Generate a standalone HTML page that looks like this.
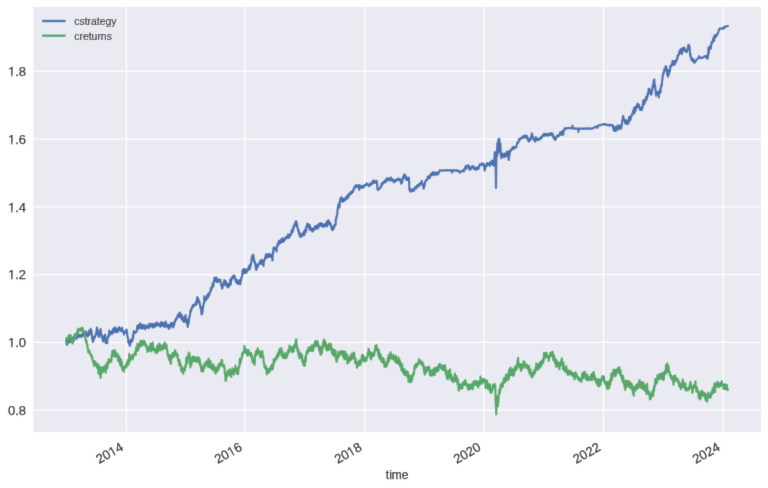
<!DOCTYPE html>
<html><head><meta charset="utf-8"><style>
html,body{margin:0;padding:0;background:#fff;width:768px;height:488px;overflow:hidden}
svg{display:block;font-family:"Liberation Sans",sans-serif}
</style></head><body>
<svg width="768" height="488" viewBox="0 0 768 488">
<defs><filter id="sf" x="0" y="0" width="768" height="488" filterUnits="userSpaceOnUse"><feConvolveMatrix order="3" kernelMatrix="0.0100 0.0800 0.0100 0.0800 0.6400 0.0800 0.0100 0.0800 0.0100" edgeMode="duplicate"/></filter></defs>
<g filter="url(#sf)">
<rect width="768" height="488" fill="#fff"/>
<rect x="33.5" y="7" width="727.5" height="425" fill="#EAEAF2"/>
<line x1="33.5" x2="761" y1="71.4" y2="71.4" stroke="#fff" stroke-width="1.3"/>
<line x1="33.5" x2="761" y1="139.1" y2="139.1" stroke="#fff" stroke-width="1.3"/>
<line x1="33.5" x2="761" y1="206.9" y2="206.9" stroke="#fff" stroke-width="1.3"/>
<line x1="33.5" x2="761" y1="274.6" y2="274.6" stroke="#fff" stroke-width="1.3"/>
<line x1="33.5" x2="761" y1="342.4" y2="342.4" stroke="#fff" stroke-width="1.3"/>
<line x1="33.5" x2="761" y1="410.1" y2="410.1" stroke="#fff" stroke-width="1.3"/>
<line x1="126.4" x2="126.4" y1="7" y2="432" stroke="#fff" stroke-width="1.3"/>
<line x1="245.0" x2="245.0" y1="7" y2="432" stroke="#fff" stroke-width="1.3"/>
<line x1="364.9" x2="364.9" y1="7" y2="432" stroke="#fff" stroke-width="1.3"/>
<line x1="483.8" x2="483.8" y1="7" y2="432" stroke="#fff" stroke-width="1.3"/>
<line x1="603.5" x2="603.5" y1="7" y2="432" stroke="#fff" stroke-width="1.3"/>
<line x1="723.0" x2="723.0" y1="7" y2="432" stroke="#fff" stroke-width="1.3"/>
<polyline points="66.2,341.2 66.5,340.8 66.7,343.9 67.0,342.8 67.2,344.9 67.5,341.2 67.7,339.4 67.9,341.0 68.2,340.9 68.4,341.5 68.7,340.6 68.9,341.8 69.2,340.2 69.4,342.5 69.7,339.4 69.9,342.2 70.2,338.1 70.5,338.4 70.7,339.7 71.0,340.7 71.2,340.1 71.5,340.6 71.8,339.0 72.0,338.9 72.3,341.1 72.5,339.0 72.8,339.5 73.0,340.2 73.3,337.4 73.6,338.9 73.8,340.8 74.1,338.8 74.3,338.2 74.6,334.9 74.8,335.7 75.1,337.6 75.3,335.1 75.6,333.9 75.8,336.4 76.1,337.1 76.3,339.0 76.6,337.3 76.8,337.2 77.0,336.2 77.3,335.5 77.5,336.6 77.8,336.4 78.0,335.6 78.3,336.5 78.5,337.1 78.8,334.7 79.0,335.4 79.2,334.6 79.5,334.8 79.7,336.0 80.0,335.9 80.2,336.5 80.4,335.9 80.7,336.5 80.9,336.3 81.2,335.3 81.4,336.9 81.7,336.1 81.9,334.0 82.2,335.0 82.4,335.6 82.7,336.0 82.9,335.3 83.2,335.0 83.4,332.7 83.7,334.8 84.0,334.5 84.2,333.4 84.5,334.1 84.7,334.0 85.0,334.8 85.2,335.7 85.5,333.3 85.7,332.8 86.0,333.0 86.3,331.5 86.5,333.4 86.8,333.6 87.0,335.6 87.3,334.9 87.6,335.2 87.8,336.3 88.1,335.1 88.3,333.5 88.6,334.9 88.8,335.3 89.1,334.6 89.3,330.3 89.6,331.8 89.8,333.5 90.0,332.0 90.3,330.8 90.5,332.1 90.8,328.9 91.0,330.0 91.2,330.9 91.5,330.8 91.8,334.1 92.0,336.4 92.3,339.4 92.5,339.4 92.8,341.8 93.1,339.9 93.3,341.2 93.6,339.7 93.8,337.2 94.1,337.7 94.4,338.1 94.6,336.0 94.9,337.6 95.1,336.3 95.4,335.6 95.7,335.4 95.9,333.2 96.2,334.5 96.5,331.9 96.7,329.1 97.0,327.6 97.2,329.3 97.5,330.1 97.8,331.3 98.0,332.3 98.2,333.1 98.5,334.8 98.8,336.6 99.0,336.9 99.3,335.6 99.5,333.8 99.8,332.3 100.1,331.1 100.3,332.7 100.6,329.1 100.9,332.7 101.1,333.5 101.4,333.8 101.7,336.5 101.9,336.6 102.2,336.2 102.4,338.6 102.7,339.3 103.0,341.5 103.2,338.7 103.5,340.5 103.8,339.0 104.0,340.0 104.3,336.2 104.5,335.8 104.8,337.7 105.1,334.6 105.3,337.4 105.6,343.0 105.9,340.9 106.1,341.4 106.4,342.9 106.7,342.3 106.9,339.6 107.2,343.2 107.4,338.6 107.7,338.5 108.0,336.9 108.2,335.6 108.5,337.2 108.7,336.7 109.0,335.0 109.2,330.7 109.5,334.3 109.8,332.5 110.0,334.6 110.2,334.0 110.5,334.1 110.8,333.7 111.0,332.5 111.2,333.2 111.5,331.4 111.8,333.1 112.0,331.0 112.2,333.9 112.5,331.3 112.8,331.2 113.0,330.5 113.2,328.9 113.5,328.6 113.8,331.4 114.0,330.2 114.2,332.1 114.5,329.6 114.8,327.4 115.0,328.4 115.2,327.7 115.5,329.5 115.8,328.7 116.0,328.6 116.2,329.5 116.5,332.3 116.7,331.4 117.0,329.4 117.2,329.5 117.5,330.0 117.7,328.7 118.0,331.9 118.2,329.7 118.4,328.6 118.7,329.4 118.9,330.0 119.2,327.1 119.4,327.8 119.7,329.1 119.9,328.2 120.2,330.2 120.4,328.9 120.7,330.1 120.9,329.5 121.2,331.1 121.5,330.7 121.7,329.6 122.0,330.9 122.2,327.8 122.5,331.3 122.8,331.2 123.0,331.7 123.2,332.0 123.5,332.6 123.8,333.3 124.0,334.6 124.3,333.0 124.5,332.3 124.8,331.8 125.0,331.4 125.3,331.3 125.6,331.4 125.8,331.4 126.1,332.1 126.4,332.4 126.6,329.7 126.9,333.3 127.1,332.1 127.4,336.1 127.7,337.6 127.9,337.6 128.2,342.4 128.5,341.4 128.7,341.0 129.0,343.4 129.3,340.7 129.5,343.9 129.8,345.9 130.1,345.1 130.3,340.9 130.6,342.3 130.9,340.4 131.1,339.9 131.4,339.5 131.6,341.9 131.9,339.8 132.2,341.3 132.4,339.3 132.7,339.6 132.9,335.2 133.2,337.2 133.5,333.5 133.7,331.0 134.0,332.6 134.2,333.3 134.5,331.8 134.8,332.6 135.0,332.1 135.3,332.8 135.5,332.2 135.8,331.7 136.1,331.3 136.3,331.6 136.6,331.6 136.8,330.4 137.1,327.2 137.3,325.8 137.6,326.3 137.8,327.5 138.1,325.3 138.3,329.0 138.6,325.6 138.8,327.6 139.0,324.8 139.3,326.0 139.5,325.9 139.8,327.6 140.0,325.4 140.2,323.4 140.5,325.5 140.8,328.2 141.0,326.4 141.2,324.9 141.5,328.1 141.8,328.5 142.0,325.3 142.2,325.0 142.5,328.2 142.8,326.3 143.0,327.8 143.3,328.2 143.5,327.6 143.8,325.1 144.0,328.4 144.3,328.2 144.5,328.4 144.8,327.1 145.0,327.8 145.3,329.1 145.5,328.5 145.8,327.5 146.1,327.2 146.3,325.4 146.6,327.4 146.8,326.9 147.1,326.2 147.3,326.1 147.6,327.3 147.8,327.0 148.1,326.1 148.3,327.1 148.6,328.2 148.8,326.6 149.1,327.4 149.3,323.5 149.6,324.2 149.8,326.4 150.1,326.5 150.3,325.4 150.6,325.8 150.8,324.0 151.1,326.2 151.3,324.9 151.5,323.9 151.8,325.7 152.0,324.1 152.3,325.0 152.5,327.4 152.8,325.9 153.0,326.3 153.3,325.2 153.5,323.9 153.8,325.6 154.0,327.3 154.2,326.5 154.5,325.9 154.8,324.9 155.0,325.3 155.2,325.1 155.5,326.2 155.8,326.2 156.0,322.8 156.2,324.8 156.5,323.5 156.8,322.7 157.0,323.9 157.2,325.3 157.5,323.1 157.8,323.3 158.0,324.7 158.2,323.7 158.5,324.1 158.8,323.8 159.0,325.4 159.2,324.6 159.5,324.4 159.8,325.2 160.0,323.8 160.2,326.8 160.5,324.0 160.8,325.9 161.0,323.7 161.2,322.2 161.5,325.5 161.8,325.8 162.0,324.0 162.2,323.3 162.5,323.6 162.8,322.7 163.0,324.3 163.2,325.3 163.5,323.0 163.8,324.3 164.0,326.7 164.2,323.8 164.5,325.2 164.8,323.7 165.0,326.2 165.2,326.9 165.5,324.6 165.7,321.7 166.0,326.4 166.2,325.4 166.5,325.9 166.7,325.7 167.0,324.9 167.2,324.5 167.5,324.6 167.7,326.7 168.0,324.8 168.2,327.5 168.5,328.2 168.7,327.3 169.0,328.8 169.2,328.5 169.5,325.0 169.7,326.4 170.0,326.2 170.2,327.4 170.5,325.4 170.7,326.3 171.0,322.8 171.2,323.9 171.5,323.5 171.7,326.0 172.0,323.0 172.2,325.4 172.4,325.6 172.7,324.3 172.9,325.5 173.2,327.3 173.4,326.8 173.7,326.3 173.9,325.2 174.2,322.4 174.4,324.1 174.7,321.0 174.9,321.5 175.2,321.4 175.4,320.3 175.7,320.5 176.0,318.3 176.2,318.3 176.5,318.5 176.7,318.7 177.0,318.4 177.2,317.2 177.5,317.0 177.7,315.4 178.0,316.0 178.3,314.4 178.5,315.5 178.8,313.6 179.0,315.3 179.3,315.7 179.5,316.8 179.8,312.7 180.0,315.6 180.3,313.3 180.6,314.9 180.8,315.5 181.1,315.4 181.3,316.5 181.6,319.1 181.8,315.2 182.1,318.2 182.3,317.8 182.6,319.6 182.8,320.4 183.1,321.2 183.3,319.8 183.6,319.5 183.8,319.8 184.1,322.0 184.3,317.3 184.6,320.5 184.8,318.5 185.1,320.6 185.3,320.6 185.6,315.0 185.8,319.2 186.1,320.8 186.3,320.9 186.6,322.8 186.8,321.8 187.1,324.4 187.3,319.5 187.6,325.1 187.8,326.9 188.1,324.4 188.3,322.0 188.6,323.3 188.9,322.3 189.1,317.6 189.4,317.8 189.6,316.5 189.9,315.2 190.1,314.4 190.4,312.0 190.6,310.3 190.9,309.9 191.1,311.1 191.4,308.6 191.6,309.0 191.9,308.2 192.1,306.9 192.4,307.4 192.6,305.9 192.9,306.1 193.1,304.9 193.4,306.5 193.6,305.1 193.9,305.9 194.1,305.8 194.3,304.9 194.6,304.6 194.8,304.7 195.1,304.4 195.3,305.0 195.6,303.6 195.8,302.7 196.1,301.7 196.3,304.6 196.6,301.6 196.8,300.9 197.1,298.7 197.3,297.1 197.6,299.4 197.8,300.2 198.0,298.8 198.3,299.5 198.5,302.5 198.8,300.3 199.0,302.6 199.2,301.1 199.5,302.4 199.7,303.3 199.9,304.8 200.2,306.4 200.4,307.4 200.7,307.9 200.9,309.3 201.1,307.0 201.4,312.9 201.6,314.3 201.9,311.7 202.1,310.9 202.3,313.4 202.6,311.1 202.8,309.1 203.1,307.1 203.3,305.1 203.6,303.8 203.8,303.0 204.1,303.2 204.3,296.4 204.5,299.1 204.8,299.1 205.0,298.8 205.3,297.9 205.5,300.6 205.8,298.4 206.0,299.0 206.3,299.4 206.5,297.5 206.8,297.2 207.0,296.5 207.3,295.1 207.5,298.2 207.8,294.6 208.0,295.4 208.2,296.9 208.5,293.4 208.7,295.2 209.0,293.2 209.2,295.1 209.5,293.1 209.7,292.7 210.0,292.2 210.2,291.8 210.5,292.0 210.7,288.8 211.0,287.8 211.2,289.4 211.5,289.6 211.7,287.6 211.9,287.7 212.2,286.1 212.4,285.8 212.7,283.7 212.9,286.6 213.2,283.0 213.4,286.1 213.7,281.5 213.9,281.6 214.2,279.7 214.4,277.9 214.7,280.6 214.9,279.1 215.2,280.6 215.4,279.4 215.7,280.1 215.9,278.9 216.2,277.4 216.4,282.0 216.7,280.0 217.0,279.7 217.2,279.0 217.5,279.5 217.7,279.6 218.0,281.8 218.2,280.2 218.5,280.9 218.7,280.9 219.0,280.2 219.3,280.2 219.5,279.5 219.8,280.0 220.0,280.1 220.3,279.6 220.5,281.2 220.8,283.1 221.0,284.2 221.3,285.7 221.5,286.2 221.8,285.6 222.1,288.6 222.3,284.8 222.6,287.6 222.8,284.9 223.1,284.1 223.3,285.1 223.6,285.2 223.8,282.1 224.1,282.7 224.3,280.2 224.6,283.4 224.8,282.3 225.1,282.5 225.3,284.4 225.6,281.0 225.8,282.2 226.1,283.6 226.3,282.8 226.6,286.1 226.8,284.8 227.1,283.9 227.3,283.8 227.6,285.7 227.8,284.2 228.1,287.5 228.3,284.3 228.5,287.0 228.8,285.7 229.0,286.3 229.3,284.4 229.5,285.7 229.8,282.7 230.0,282.1 230.3,279.3 230.5,280.6 230.8,284.3 231.0,280.5 231.2,279.6 231.5,280.4 231.7,278.4 232.0,278.3 232.2,277.5 232.5,277.9 232.7,276.1 233.0,278.1 233.2,276.8 233.5,277.2 233.7,275.9 234.0,277.7 234.2,276.0 234.5,275.6 234.7,276.5 235.0,277.4 235.2,278.2 235.5,279.7 235.7,281.5 236.0,280.5 236.2,280.1 236.5,282.7 236.7,282.0 237.0,282.2 237.2,280.2 237.5,281.9 237.8,283.9 238.0,282.2 238.3,282.2 238.5,282.3 238.8,281.1 239.0,281.8 239.3,283.7 239.5,283.3 239.8,280.2 240.0,281.5 240.3,284.3 240.5,280.5 240.8,281.3 241.0,280.1 241.3,277.6 241.5,278.2 241.8,277.6 242.0,276.8 242.3,274.0 242.5,270.5 242.8,274.0 243.0,273.9 243.3,272.3 243.5,269.2 243.8,272.2 244.0,271.5 244.3,271.3 244.5,273.1 244.8,271.3 245.0,269.1 245.3,271.3 245.5,272.1 245.8,272.0 246.1,271.1 246.3,272.9 246.6,272.0 246.8,271.4 247.1,269.9 247.3,269.7 247.6,270.6 247.8,270.4 248.1,268.2 248.4,269.9 248.6,269.7 248.9,266.7 249.1,265.9 249.4,267.9 249.6,265.6 249.9,269.1 250.1,264.8 250.4,266.9 250.7,264.2 250.9,264.9 251.2,262.8 251.4,261.4 251.7,258.9 251.9,257.4 252.2,256.1 252.4,256.9 252.7,255.4 252.9,256.9 253.2,254.6 253.5,256.4 253.7,258.0 254.0,261.2 254.2,261.5 254.5,260.9 254.7,262.3 255.0,263.5 255.2,262.6 255.5,265.7 255.7,267.0 255.9,268.2 256.2,270.0 256.4,266.7 256.7,267.9 256.9,268.5 257.2,266.4 257.4,266.0 257.7,264.3 257.9,266.6 258.2,265.3 258.4,264.2 258.7,264.2 259.0,264.0 259.2,264.1 259.5,262.5 259.7,262.6 260.0,262.5 260.3,260.5 260.5,261.7 260.8,260.7 261.0,262.2 261.3,263.8 261.5,262.4 261.8,259.8 262.0,262.4 262.3,263.3 262.5,263.9 262.8,264.3 263.0,264.2 263.3,262.2 263.5,266.0 263.8,261.7 264.0,260.6 264.3,260.6 264.5,259.3 264.8,259.5 265.0,259.1 265.3,257.0 265.5,257.2 265.7,255.8 266.0,254.3 266.2,256.2 266.5,254.4 266.7,257.8 267.0,254.7 267.2,257.4 267.5,255.3 267.7,255.1 268.0,256.2 268.2,256.2 268.5,254.4 268.7,256.7 269.0,254.7 269.2,255.1 269.5,254.5 269.7,253.9 270.0,255.8 270.2,256.7 270.5,255.1 270.7,256.0 271.0,256.4 271.2,256.6 271.5,256.1 271.7,255.1 272.0,256.4 272.2,258.1 272.5,260.5 272.8,253.0 273.0,252.0 273.3,253.1 273.5,248.4 273.8,247.5 274.1,247.8 274.3,248.6 274.6,248.4 274.8,249.2 275.1,248.1 275.3,249.2 275.6,249.4 275.8,249.9 276.1,249.0 276.3,249.4 276.6,251.4 276.8,246.3 277.1,246.1 277.3,246.8 277.6,243.8 277.8,244.8 278.0,245.3 278.3,244.7 278.5,242.5 278.8,240.9 279.0,242.5 279.3,243.7 279.5,241.9 279.8,241.2 280.0,241.8 280.3,241.2 280.6,242.9 280.8,239.6 281.1,240.8 281.3,241.3 281.6,241.8 281.8,240.2 282.1,241.4 282.3,240.1 282.6,238.1 282.8,242.0 283.1,240.6 283.3,239.5 283.6,240.2 283.8,240.3 284.1,241.0 284.3,239.6 284.6,240.1 284.8,238.9 285.1,239.0 285.3,238.8 285.6,237.5 285.8,237.1 286.1,236.8 286.3,238.5 286.6,238.2 286.8,237.2 287.1,237.8 287.3,237.3 287.6,237.1 287.8,236.6 288.1,234.3 288.3,236.6 288.6,234.7 288.9,238.0 289.1,236.9 289.4,235.3 289.6,236.4 289.9,236.1 290.1,234.5 290.4,235.5 290.7,235.2 290.9,234.0 291.2,234.0 291.4,231.2 291.7,233.3 291.9,231.9 292.2,229.4 292.4,230.0 292.7,231.8 292.9,229.2 293.2,230.0 293.5,226.6 293.7,227.9 294.0,227.4 294.2,225.4 294.5,224.3 294.7,224.0 295.0,224.2 295.2,225.0 295.5,221.5 295.7,221.5 296.0,222.3 296.3,221.2 296.5,224.5 296.8,226.6 297.0,223.6 297.3,227.4 297.5,227.7 297.8,228.3 298.0,229.7 298.3,230.9 298.5,229.6 298.8,232.4 299.0,233.5 299.2,234.3 299.5,234.2 299.7,236.0 300.0,233.3 300.2,234.7 300.5,237.1 300.7,236.0 301.0,234.9 301.2,235.4 301.5,236.6 301.7,235.5 302.0,234.9 302.3,233.8 302.5,233.5 302.8,234.3 303.0,235.5 303.3,235.3 303.5,233.9 303.8,233.5 304.0,231.3 304.3,235.1 304.6,233.7 304.8,231.0 305.1,230.7 305.3,229.6 305.6,229.3 305.8,231.8 306.1,231.1 306.3,227.3 306.6,226.3 306.8,226.1 307.1,224.6 307.3,223.6 307.6,224.5 307.8,226.9 308.1,224.2 308.3,225.2 308.6,225.4 308.8,226.6 309.1,227.5 309.3,226.0 309.6,224.9 309.8,229.9 310.1,229.8 310.3,227.1 310.6,229.9 310.8,229.4 311.1,229.7 311.3,228.4 311.6,230.4 311.8,230.9 312.1,229.7 312.3,230.9 312.6,231.5 312.9,229.5 313.1,228.5 313.4,230.1 313.6,229.2 313.9,230.2 314.1,229.1 314.4,228.0 314.6,227.6 314.9,227.3 315.1,226.0 315.4,228.4 315.6,228.2 315.9,228.4 316.1,226.3 316.4,227.8 316.6,228.7 316.9,226.1 317.1,227.1 317.4,225.4 317.6,228.3 317.9,225.9 318.1,228.2 318.4,226.7 318.6,224.4 318.9,226.3 319.1,223.8 319.4,224.5 319.6,225.4 319.9,223.6 320.1,224.2 320.4,223.9 320.6,225.5 320.9,223.0 321.1,224.3 321.4,223.8 321.6,225.9 321.9,223.6 322.1,224.4 322.4,223.9 322.6,224.7 322.9,226.8 323.1,224.3 323.4,225.5 323.6,225.2 323.9,224.6 324.1,226.3 324.4,226.1 324.6,226.2 324.9,224.6 325.1,224.1 325.4,225.7 325.6,224.8 325.9,224.9 326.1,225.2 326.4,222.3 326.6,224.6 326.9,226.5 327.1,221.9 327.4,222.0 327.6,220.9 327.9,222.1 328.1,222.5 328.4,221.6 328.6,220.3 328.9,222.6 329.1,222.2 329.4,224.9 329.6,222.5 329.9,223.3 330.1,222.7 330.3,224.9 330.6,224.3 330.8,225.4 331.1,225.7 331.3,226.6 331.5,228.5 331.8,227.0 332.0,230.0 332.3,230.2 332.5,228.4 332.8,228.6 333.0,228.9 333.3,226.7 333.5,229.1 333.8,228.4 334.1,225.6 334.3,226.7 334.6,225.0 334.8,224.8 335.1,225.4 335.3,225.1 335.6,224.5 335.8,219.6 336.1,218.6 336.3,217.2 336.6,217.6 336.8,215.9 337.0,214.8 337.3,214.0 337.5,211.2 337.8,207.8 338.0,206.4 338.3,207.9 338.5,204.2 338.8,207.8 339.0,203.1 339.3,204.0 339.5,207.4 339.8,201.7 340.0,202.0 340.3,198.5 340.6,199.3 340.8,199.2 341.1,200.2 341.3,197.4 341.6,200.0 341.8,200.7 342.1,200.8 342.3,198.0 342.6,201.9 342.9,201.4 343.1,198.9 343.4,200.1 343.6,199.1 343.9,200.9 344.1,200.9 344.4,200.3 344.6,200.2 344.9,198.6 345.1,199.2 345.4,198.3 345.6,198.0 345.9,197.1 346.1,199.4 346.4,198.1 346.6,198.7 346.9,198.6 347.1,197.2 347.4,196.1 347.6,195.5 347.9,198.0 348.1,196.2 348.4,197.0 348.6,194.3 348.8,195.8 349.1,194.4 349.3,193.6 349.6,194.2 349.8,193.0 350.1,194.4 350.3,192.5 350.6,193.4 350.8,193.4 351.1,193.7 351.3,192.0 351.6,192.5 351.8,191.3 352.1,192.8 352.3,191.8 352.6,191.1 352.8,192.0 353.1,191.3 353.3,190.5 353.6,188.9 353.8,189.9 354.1,188.1 354.3,187.6 354.6,187.2 354.9,186.5 355.1,185.9 355.4,186.8 355.6,186.7 355.9,185.3 356.1,186.2 356.4,187.4 356.6,186.2 356.9,186.5 357.2,185.5 357.4,186.5 357.7,185.9 357.9,185.9 358.2,186.1 358.4,186.9 358.7,186.4 358.9,185.2 359.2,190.0 359.5,186.8 359.7,186.3 360.0,186.3 360.2,187.0 360.5,186.2 360.7,186.8 361.0,185.7 361.2,186.7 361.5,186.3 361.7,188.0 362.0,186.1 362.2,187.0 362.5,186.7 362.7,187.1 363.0,186.6 363.2,187.7 363.5,185.8 363.7,185.8 364.0,185.4 364.2,185.3 364.5,186.4 364.7,185.1 365.0,185.6 365.2,185.4 365.5,185.4 365.7,184.8 366.0,184.2 366.2,184.9 366.5,184.8 366.7,183.4 367.0,183.7 367.2,184.6 367.5,185.0 367.7,185.1 368.0,184.3 368.3,184.4 368.5,184.7 368.8,185.1 369.0,186.1 369.3,185.8 369.5,184.8 369.8,184.8 370.0,184.2 370.3,183.9 370.6,183.9 370.8,185.2 371.1,182.8 371.3,183.6 371.6,183.0 371.8,183.9 372.1,183.8 372.3,183.5 372.6,181.9 372.8,181.5 373.1,182.8 373.3,182.4 373.6,180.3 373.8,182.5 374.1,181.3 374.3,181.0 374.6,182.9 374.8,182.7 375.1,182.6 375.3,182.4 375.6,182.2 375.8,181.4 376.1,180.9 376.3,182.0 376.6,180.9 376.8,181.8 377.0,182.8 377.2,185.3 377.5,188.9 377.7,189.6 378.0,190.0 378.2,188.9 378.5,189.2 378.7,189.1 379.0,189.1 379.2,188.8 379.5,188.5 379.8,187.8 380.0,188.5 380.3,188.0 380.5,187.8 380.8,186.7 381.0,185.6 381.3,185.0 381.5,186.2 381.8,183.4 382.0,183.8 382.3,183.3 382.5,183.2 382.8,183.9 383.0,183.2 383.3,182.1 383.5,182.4 383.8,182.8 384.0,182.5 384.3,181.8 384.5,181.1 384.8,181.5 385.0,181.1 385.3,182.1 385.5,180.0 385.8,180.5 386.0,180.0 386.3,179.7 386.5,181.3 386.8,178.4 387.0,178.6 387.3,179.9 387.5,178.2 387.8,178.5 388.0,179.0 388.3,179.7 388.6,179.1 388.8,178.7 389.1,179.8 389.3,180.5 389.6,179.0 389.8,179.5 390.1,178.9 390.3,178.6 390.6,177.8 390.8,177.4 391.1,178.7 391.3,179.6 391.6,179.2 391.8,180.6 392.1,179.4 392.3,180.1 392.6,179.2 392.8,181.0 393.1,180.3 393.3,180.3 393.6,180.7 393.8,182.1 394.1,181.0 394.3,181.4 394.5,182.1 394.8,181.4 395.0,180.1 395.3,180.4 395.5,180.1 395.8,179.9 396.0,179.6 396.3,180.8 396.5,179.5 396.8,179.5 397.0,179.7 397.3,179.5 397.5,179.8 397.8,179.2 398.0,180.0 398.3,178.5 398.5,178.7 398.8,180.1 399.0,179.9 399.3,178.8 399.5,179.9 399.8,179.5 400.0,179.3 400.3,180.9 400.5,180.6 400.8,181.6 401.0,183.0 401.2,183.7 401.5,182.9 401.7,182.8 401.9,182.8 402.2,182.2 402.4,180.6 402.7,177.8 402.9,179.1 403.2,178.1 403.4,176.4 403.7,177.5 403.9,175.4 404.2,175.0 404.4,174.4 404.6,174.8 404.9,174.8 405.1,177.4 405.4,176.8 405.6,178.5 405.8,177.9 406.1,176.6 406.3,178.8 406.5,180.0 406.8,178.7 407.0,180.1 407.3,178.8 407.5,178.4 407.8,178.0 408.0,178.9 408.3,179.8 408.5,177.7 408.8,179.0 409.0,178.2 409.2,184.3 409.4,189.9 409.7,189.4 409.9,189.8 410.2,191.7 410.4,189.3 410.7,189.4 410.9,190.6 411.2,189.9 411.4,190.6 411.7,191.2 411.9,189.9 412.2,190.8 412.4,190.0 412.7,189.3 412.9,189.5 413.2,190.8 413.4,190.7 413.7,191.0 414.0,190.5 414.2,188.8 414.5,189.3 414.7,189.1 415.0,187.2 415.2,187.5 415.5,187.9 415.8,188.7 416.0,187.7 416.3,188.5 416.5,186.7 416.8,186.9 417.0,185.8 417.3,186.2 417.5,185.1 417.8,185.2 418.0,186.6 418.3,186.4 418.5,185.9 418.8,185.0 419.0,184.3 419.3,183.7 419.5,183.9 419.8,185.3 420.0,183.6 420.3,183.6 420.5,183.3 420.8,182.8 421.0,183.2 421.3,183.0 421.5,182.1 421.8,180.9 422.0,181.7 422.3,182.8 422.5,184.2 422.8,185.1 423.0,185.8 423.3,186.8 423.5,188.3 423.8,188.6 424.1,187.3 424.3,185.5 424.6,185.1 424.8,184.4 425.1,182.8 425.3,181.4 425.6,180.9 425.8,180.9 426.1,180.2 426.3,180.0 426.6,180.6 426.8,179.5 427.1,179.4 427.3,178.8 427.6,177.5 427.8,176.5 428.1,176.5 428.3,176.7 428.6,176.6 428.8,177.3 429.1,178.5 429.3,178.3 429.5,178.1 429.8,177.8 430.0,177.0 430.2,174.8 430.5,175.9 430.7,175.6 431.0,175.3 431.2,173.5 431.5,173.8 431.7,174.0 432.0,173.3 432.2,173.7 432.5,173.0 432.7,175.1 433.0,172.2 433.2,173.0 433.5,173.8 433.7,173.5 434.0,173.8 434.2,172.6 434.5,174.0 434.7,174.6 435.0,174.1 435.2,172.8 435.5,174.3 435.7,173.4 436.0,174.7 436.2,174.4 436.5,173.0 436.7,174.1 437.0,172.3 437.2,174.0 437.5,173.4 437.7,174.5 438.0,173.8 438.2,173.7 438.5,173.4 438.7,173.2 439.0,172.2 439.2,171.2 439.5,170.7 439.8,170.5 440.0,170.7 440.3,170.4 440.5,170.6 440.8,170.6 441.0,170.7 441.3,170.6 441.5,170.5 441.8,170.4 442.0,170.6 442.3,170.8 442.5,170.6 442.8,170.6 443.0,170.5 443.3,170.5 443.5,170.3 443.8,170.3 444.0,170.3 444.3,170.3 444.5,170.4 444.8,170.3 445.1,170.5 445.3,170.4 445.6,170.5 445.8,170.4 446.1,170.6 446.3,170.4 446.6,170.4 446.8,170.4 447.1,170.3 447.3,170.4 447.6,170.2 447.8,170.2 448.1,170.3 448.3,170.3 448.6,170.3 448.8,170.3 449.1,170.0 449.3,170.1 449.6,170.2 449.8,170.4 450.1,170.3 450.3,170.2 450.6,170.3 450.8,170.2 451.1,170.3 451.3,170.1 451.6,170.5 451.8,170.5 452.1,172.6 452.3,170.3 452.6,170.5 452.8,170.4 453.1,170.4 453.3,170.5 453.6,170.4 453.8,170.2 454.1,170.5 454.3,170.7 454.5,170.5 454.8,170.4 455.0,170.4 455.3,170.4 455.5,170.5 455.8,170.6 456.0,170.4 456.3,170.7 456.5,170.7 456.8,170.5 457.0,170.4 457.3,170.9 457.5,170.5 457.8,170.6 458.0,170.4 458.3,170.8 458.5,170.7 458.7,171.0 458.9,171.6 459.2,172.2 459.4,172.6 459.7,172.2 459.9,172.3 460.2,172.0 460.4,172.3 460.7,172.1 460.9,171.7 461.2,171.3 461.4,171.1 461.7,171.2 462.0,170.8 462.2,171.0 462.5,170.7 462.7,170.6 463.0,170.3 463.2,170.2 463.5,169.9 463.7,169.8 464.0,171.5 464.2,169.0 464.5,169.4 464.7,169.3 465.0,168.3 465.2,167.4 465.5,166.6 465.7,166.3 466.0,165.9 466.2,166.8 466.5,168.7 466.7,166.8 467.0,166.1 467.2,165.8 467.5,165.9 467.7,166.1 467.9,166.1 468.2,165.7 468.4,165.2 468.7,166.6 468.9,166.2 469.2,168.0 469.4,169.3 469.7,167.5 469.9,168.7 470.2,168.4 470.4,169.9 470.7,168.4 470.9,167.3 471.2,167.1 471.4,166.8 471.7,167.8 471.9,166.4 472.2,167.4 472.4,166.8 472.7,168.0 472.9,167.1 473.2,166.0 473.5,167.8 473.7,167.5 474.0,168.8 474.2,168.2 474.5,167.7 474.7,167.9 475.0,169.1 475.2,168.6 475.5,169.8 475.7,170.0 476.0,168.0 476.2,167.6 476.5,168.3 476.7,167.8 477.0,167.6 477.2,168.1 477.5,167.3 477.7,169.0 478.0,168.3 478.2,169.2 478.5,167.7 478.7,167.7 478.9,167.7 479.2,165.9 479.4,165.4 479.7,164.4 479.9,164.7 480.2,165.0 480.4,164.8 480.7,165.1 480.9,164.7 481.2,164.6 481.4,164.9 481.7,163.7 481.9,163.4 482.2,164.5 482.4,164.6 482.7,164.2 482.9,164.5 483.2,164.3 483.4,163.7 483.7,164.5 483.9,165.3 484.2,166.5 484.4,168.7 484.7,170.7 484.9,167.6 485.2,168.0 485.4,168.1 485.7,166.2 485.9,165.8 486.2,166.0 486.4,166.0 486.7,163.7 487.0,163.1 487.2,164.3 487.5,163.9 487.7,164.1 488.0,165.0 488.3,163.9 488.5,164.7 488.8,164.8 489.0,163.5 489.3,164.4 489.5,162.8 489.8,162.5 490.0,165.9 490.3,163.4 490.5,163.1 490.8,162.2 491.0,162.2 491.3,163.3 491.5,161.1 491.8,161.5 492.0,161.3 492.2,164.1 492.5,160.5 492.8,163.2 493.0,164.7 493.2,165.3 493.5,164.8 493.8,163.8 494.0,165.4 494.2,161.6 494.5,157.5 494.7,152.4 495.0,154.9 495.2,156.8 495.5,160.0 495.8,174.2 496.0,187.9 496.2,170.6 496.5,151.4 496.8,154.7 497.0,156.3 497.2,149.3 497.4,143.1 497.6,147.3 497.9,153.5 498.1,144.8 498.4,139.3 498.6,144.3 498.9,150.3 499.1,143.3 499.3,138.7 499.6,145.4 499.8,151.8 500.1,147.8 500.3,143.3 500.6,149.6 500.8,155.7 501.1,156.5 501.3,158.2 501.6,156.7 501.8,156.6 502.1,155.8 502.3,155.9 502.6,156.0 502.8,153.7 503.1,154.0 503.3,155.6 503.5,154.9 503.8,154.1 504.0,156.2 504.3,157.4 504.5,155.6 504.8,154.8 505.0,153.7 505.3,155.7 505.5,155.2 505.8,155.4 506.0,155.7 506.2,156.2 506.5,155.5 506.8,151.8 507.0,153.0 507.2,152.4 507.5,152.6 507.8,152.5 508.0,151.6 508.2,154.4 508.5,157.9 508.7,160.0 509.0,157.6 509.2,156.1 509.5,154.0 509.7,153.1 510.0,151.2 510.2,150.2 510.5,150.7 510.7,150.2 511.0,150.7 511.2,150.3 511.5,150.2 511.7,149.3 512.0,148.7 512.2,148.8 512.5,147.9 512.7,147.5 513.0,146.9 513.2,147.2 513.5,147.1 513.7,148.9 514.0,148.0 514.2,148.5 514.5,147.3 514.7,147.7 515.0,147.8 515.2,147.8 515.5,147.1 515.7,147.8 516.0,146.5 516.2,147.0 516.5,146.6 516.8,144.8 517.0,144.0 517.2,142.5 517.5,142.9 517.8,143.2 518.0,142.4 518.3,142.0 518.5,142.1 518.8,141.3 519.0,139.1 519.3,139.2 519.6,139.6 519.8,138.8 520.1,139.4 520.3,138.9 520.6,138.9 520.8,138.9 521.1,137.8 521.3,138.6 521.6,138.5 521.8,137.7 522.1,137.5 522.4,137.6 522.6,137.6 522.9,137.1 523.1,136.0 523.4,137.1 523.6,136.5 523.9,136.7 524.1,137.0 524.4,137.7 524.7,136.6 524.9,135.7 525.2,136.1 525.4,135.7 525.7,137.4 525.9,137.1 526.2,136.9 526.4,135.6 526.7,136.0 526.9,137.9 527.2,138.7 527.4,136.9 527.7,138.6 527.9,139.1 528.1,140.7 528.4,140.1 528.6,141.2 528.8,141.4 529.1,140.8 529.3,140.2 529.6,140.7 529.8,138.8 530.1,140.0 530.3,138.3 530.6,139.6 530.8,138.9 531.1,138.2 531.3,136.3 531.6,136.6 531.8,133.3 532.1,136.7 532.3,135.0 532.5,136.4 532.8,136.4 533.0,137.5 533.3,138.4 533.5,138.9 533.8,139.5 534.0,139.9 534.3,139.7 534.5,139.4 534.8,140.3 535.0,141.6 535.3,139.6 535.5,140.5 535.8,137.2 536.0,140.1 536.3,139.5 536.5,138.2 536.8,139.4 537.0,140.0 537.3,139.3 537.5,139.8 537.8,140.0 538.0,139.6 538.3,139.9 538.5,139.0 538.8,139.3 539.0,139.1 539.3,139.1 539.5,138.4 539.8,139.1 540.0,138.6 540.3,139.4 540.5,137.8 540.8,137.7 541.0,137.1 541.3,137.9 541.5,137.4 541.8,137.8 542.0,136.0 542.3,136.0 542.5,136.4 542.8,135.1 543.0,135.5 543.3,135.1 543.5,135.6 543.8,135.5 544.0,133.7 544.3,134.5 544.5,134.4 544.8,134.3 545.0,135.0 545.3,135.8 545.5,134.6 545.8,134.1 546.0,134.7 546.3,134.6 546.5,135.0 546.8,134.6 547.0,133.7 547.3,134.3 547.5,135.4 547.8,135.0 548.0,135.4 548.3,135.7 548.5,135.6 548.8,134.6 549.0,134.5 549.3,133.6 549.5,134.7 549.8,134.7 550.0,134.8 550.3,134.2 550.5,133.6 550.8,133.8 551.0,133.1 551.3,134.6 551.5,134.6 551.8,133.2 552.0,135.1 552.3,135.5 552.5,133.6 552.8,134.9 553.0,135.7 553.3,136.2 553.5,137.8 553.8,137.7 554.0,136.6 554.3,137.2 554.5,139.5 554.8,139.1 555.0,139.9 555.3,138.4 555.5,138.7 555.8,139.5 556.0,137.6 556.3,137.6 556.5,137.2 556.8,136.3 557.0,135.6 557.3,136.9 557.5,136.0 557.7,136.1 558.0,136.1 558.2,135.3 558.5,135.9 558.7,136.2 559.0,135.2 559.2,135.4 559.5,135.1 559.7,133.6 560.0,133.6 560.2,132.4 560.5,133.8 560.7,133.7 561.0,132.6 561.2,134.4 561.4,134.6 561.7,132.7 561.9,132.2 562.2,131.5 562.4,132.1 562.7,131.6 562.9,131.7 563.2,134.8 563.4,130.8 563.7,130.2 563.9,130.5 564.2,130.3 564.4,129.4 564.7,128.4 564.9,129.3 565.2,128.6 565.4,128.6 565.7,128.4 565.9,128.6 566.2,128.4 566.4,128.5 566.7,128.4 566.9,128.1 567.2,128.4 567.5,128.1 567.7,128.1 568.0,128.1 568.2,128.0 568.5,128.0 568.7,128.1 569.0,127.9 569.2,127.8 569.5,128.0 569.7,128.1 570.0,128.0 570.2,128.0 570.5,128.2 570.7,128.0 571.0,128.0 571.2,128.0 571.5,128.1 571.7,128.2 572.0,128.3 572.2,128.4 572.5,125.5 572.7,128.5 573.0,128.3 573.2,128.5 573.4,128.5 573.7,128.4 573.9,128.5 574.2,128.4 574.4,128.7 574.7,128.6 574.9,128.5 575.2,128.4 575.4,128.6 575.7,128.8 575.9,128.9 576.2,128.5 576.4,128.7 576.7,128.6 576.9,128.7 577.1,128.8 577.4,128.6 577.6,128.8 577.9,128.8 578.1,128.8 578.4,131.8 578.6,128.5 578.9,128.6 579.1,128.6 579.4,128.6 579.6,128.7 579.9,128.7 580.1,128.8 580.4,128.6 580.6,128.7 580.8,128.6 581.1,128.5 581.3,128.4 581.6,128.6 581.8,128.7 582.1,128.5 582.3,128.6 582.6,128.6 582.8,128.6 583.1,128.8 583.3,128.6 583.6,128.7 583.8,128.8 584.1,128.7 584.3,128.7 584.5,128.7 584.8,128.6 585.0,128.7 585.3,128.6 585.5,128.8 585.8,128.4 586.0,128.6 586.3,129.0 586.5,128.9 586.8,128.8 587.0,128.5 587.3,128.4 587.5,128.5 587.8,128.5 588.0,128.7 588.2,128.4 588.5,128.3 588.7,128.4 589.0,128.6 589.2,128.7 589.5,128.4 589.7,128.7 590.0,128.6 590.2,128.7 590.5,128.5 590.7,128.8 591.0,128.7 591.2,128.7 591.5,128.8 591.7,128.6 591.9,128.4 592.2,128.4 592.4,128.5 592.7,128.3 592.9,128.2 593.2,128.1 593.4,127.8 593.7,127.7 593.9,127.7 594.2,127.6 594.4,127.7 594.7,127.0 594.9,127.0 595.2,126.9 595.4,127.0 595.7,126.8 595.9,126.6 596.2,126.6 596.4,126.6 596.7,126.4 596.9,126.4 597.2,126.2 597.4,127.9 597.7,126.0 598.0,125.8 598.2,125.8 598.5,125.6 598.7,125.6 599.0,125.5 599.2,125.2 599.5,125.3 599.7,125.1 600.0,125.1 600.2,125.3 600.5,125.0 600.7,125.1 601.0,125.1 601.2,124.8 601.5,124.8 601.7,124.7 602.0,124.7 602.2,124.5 602.5,124.4 602.7,124.2 603.0,124.3 603.2,124.1 603.5,124.3 603.7,124.0 604.0,124.0 604.2,124.2 604.5,124.5 604.7,124.1 605.0,124.4 605.2,124.6 605.5,124.6 605.7,124.8 606.0,124.6 606.3,124.7 606.5,124.9 606.8,125.0 607.0,124.9 607.3,124.9 607.5,125.1 607.8,125.1 608.0,125.1 608.3,125.1 608.6,125.0 608.8,125.0 609.1,124.9 609.3,125.4 609.6,125.0 609.8,125.1 610.1,125.6 610.3,124.9 610.6,125.3 610.9,125.4 611.1,125.1 611.4,125.1 611.6,125.0 611.9,125.2 612.1,125.1 612.4,125.2 612.6,125.2 612.9,125.3 613.1,127.4 613.3,128.4 613.6,129.6 613.8,130.5 614.0,129.1 614.3,130.2 614.5,129.3 614.8,130.8 615.0,129.4 615.3,126.8 615.5,127.4 615.8,128.9 616.0,131.0 616.3,127.2 616.5,128.3 616.8,129.6 617.0,128.0 617.3,127.0 617.5,128.2 617.7,125.5 618.0,125.3 618.2,127.2 618.5,125.7 618.7,129.5 619.0,128.3 619.2,127.1 619.5,127.2 619.7,127.9 620.0,126.0 620.2,127.7 620.5,127.7 620.7,127.1 621.0,128.4 621.2,128.7 621.5,124.4 621.7,125.6 622.0,123.5 622.2,121.3 622.5,120.4 622.7,119.5 623.0,115.8 623.3,117.4 623.5,119.6 623.8,118.2 624.0,119.6 624.3,119.5 624.5,120.3 624.8,120.2 625.0,122.6 625.3,120.7 625.5,123.3 625.8,122.2 626.1,123.8 626.3,123.7 626.6,120.3 626.8,121.4 627.1,122.0 627.3,120.9 627.6,121.0 627.8,123.9 628.1,123.6 628.3,120.6 628.6,122.4 628.9,120.9 629.1,116.9 629.4,121.4 629.6,119.9 629.9,118.6 630.1,117.3 630.4,119.7 630.6,118.2 630.9,118.4 631.1,117.0 631.3,116.1 631.6,115.0 631.8,115.4 632.1,115.4 632.3,113.7 632.5,114.3 632.8,112.2 633.0,111.4 633.2,112.8 633.5,109.8 633.7,109.5 634.0,109.0 634.2,107.7 634.5,113.3 634.7,109.1 635.0,107.0 635.2,110.6 635.5,110.8 635.7,107.0 636.0,106.3 636.3,108.4 636.5,106.8 636.8,106.3 637.0,105.2 637.3,106.2 637.5,103.6 637.8,105.9 638.0,107.2 638.3,104.2 638.5,106.4 638.8,104.8 639.0,104.8 639.3,106.9 639.5,107.4 639.8,107.4 640.0,110.0 640.3,108.7 640.5,108.4 640.8,108.3 641.0,108.3 641.3,108.7 641.5,110.2 641.8,110.2 642.0,107.8 642.3,107.0 642.5,108.2 642.8,104.9 643.0,102.5 643.3,101.1 643.5,100.1 643.8,102.9 644.0,102.0 644.3,104.2 644.5,101.6 644.8,102.4 645.0,100.6 645.3,101.9 645.5,99.6 645.8,99.2 646.0,97.2 646.3,99.9 646.5,98.7 646.8,98.8 647.0,97.3 647.3,95.3 647.5,96.7 647.7,93.3 648.0,94.5 648.2,92.5 648.5,91.7 648.7,88.8 648.9,90.2 649.2,88.8 649.4,89.0 649.7,89.8 649.9,89.7 650.2,91.5 650.4,93.1 650.7,94.3 650.9,93.0 651.2,94.7 651.5,93.5 651.7,93.0 652.0,91.3 652.2,90.3 652.5,88.3 652.7,85.5 653.0,87.4 653.2,85.1 653.5,83.3 653.7,80.6 654.0,80.1 654.3,79.5 654.5,82.8 654.8,85.1 655.0,85.4 655.3,87.5 655.5,89.2 655.8,93.2 656.0,95.7 656.3,93.6 656.5,93.1 656.8,92.7 657.0,93.8 657.3,92.1 657.5,93.5 657.8,93.3 658.0,91.9 658.3,93.2 658.5,94.2 658.8,97.3 659.0,94.2 659.3,92.9 659.5,92.6 659.7,92.2 660.0,89.8 660.2,89.3 660.5,92.6 660.7,88.2 660.9,87.3 661.2,85.3 661.4,85.1 661.7,86.1 661.9,83.5 662.2,79.5 662.4,79.2 662.7,77.0 662.9,74.6 663.2,73.5 663.5,73.7 663.7,71.8 664.0,72.8 664.2,69.4 664.5,71.1 664.7,68.6 665.0,70.0 665.2,68.9 665.5,68.4 665.7,66.1 666.0,66.4 666.3,68.9 666.5,67.3 666.8,70.8 667.0,70.4 667.3,75.0 667.5,75.0 667.8,74.6 668.1,76.7 668.3,74.0 668.6,72.2 668.8,70.0 669.1,74.0 669.3,72.3 669.6,71.1 669.8,71.3 670.1,70.3 670.3,66.3 670.6,66.2 670.8,65.4 671.1,66.1 671.3,66.4 671.6,64.2 671.8,65.0 672.1,64.8 672.3,63.8 672.6,60.9 672.8,63.6 673.1,63.3 673.3,64.4 673.6,63.0 673.8,61.0 674.1,65.2 674.3,64.7 674.5,64.4 674.8,63.3 675.0,62.1 675.3,63.5 675.5,60.8 675.8,62.3 676.0,61.8 676.3,59.7 676.5,59.6 676.8,59.9 677.0,59.2 677.2,59.4 677.5,55.7 677.7,55.8 678.0,56.7 678.2,55.2 678.5,55.1 678.7,54.1 679.0,54.6 679.2,53.0 679.5,51.3 679.7,50.5 680.0,51.2 680.2,52.9 680.5,52.9 680.7,49.2 680.9,51.5 681.2,52.2 681.4,50.3 681.7,53.0 681.9,53.9 682.2,50.1 682.4,48.3 682.7,50.2 682.9,50.4 683.2,50.9 683.4,48.5 683.7,47.6 683.9,49.9 684.2,49.9 684.4,47.9 684.7,48.4 684.9,49.7 685.2,49.9 685.4,51.0 685.7,51.2 685.9,50.4 686.2,52.0 686.4,51.6 686.7,52.1 686.9,51.0 687.2,49.8 687.4,49.9 687.7,49.2 687.9,47.9 688.2,45.0 688.4,47.7 688.7,44.8 688.9,47.7 689.2,46.6 689.4,46.1 689.6,47.1 689.9,52.1 690.1,55.0 690.4,53.9 690.6,56.9 690.9,56.4 691.1,58.4 691.4,57.5 691.6,60.2 691.9,59.6 692.1,58.5 692.4,60.0 692.6,58.8 692.9,61.5 693.1,60.3 693.4,59.4 693.6,61.7 693.9,62.2 694.1,61.8 694.4,61.1 694.6,62.7 694.8,62.3 695.1,61.9 695.3,61.6 695.6,61.2 695.8,60.7 696.1,60.5 696.3,59.8 696.6,59.8 696.8,59.5 697.1,59.2 697.3,59.2 697.6,58.6 697.8,58.4 698.1,58.4 698.3,57.8 698.6,57.8 698.8,57.9 699.1,56.0 699.3,58.0 699.6,57.6 699.8,57.9 700.1,57.8 700.3,58.0 700.6,57.8 700.9,57.6 701.1,57.8 701.4,57.8 701.6,57.7 701.9,58.0 702.1,58.0 702.4,58.0 702.6,57.8 702.9,57.8 703.2,57.5 703.4,57.1 703.7,56.9 703.9,56.8 704.2,56.5 704.4,56.2 704.7,56.1 705.0,56.2 705.2,56.4 705.5,56.8 705.7,56.9 706.0,57.3 706.2,57.5 706.5,57.8 706.7,55.7 707.0,58.2 707.2,58.4 707.5,58.7 707.8,57.9 708.0,56.0 708.3,53.2 708.5,47.5 708.8,53.0 709.0,50.3 709.3,49.0 709.6,48.9 709.8,47.2 710.1,46.1 710.3,46.3 710.6,45.7 710.8,48.6 711.1,45.5 711.3,44.5 711.6,42.0 711.8,43.8 712.1,42.0 712.4,41.8 712.6,41.6 712.9,40.7 713.1,38.7 713.4,41.4 713.6,37.5 713.9,38.8 714.1,40.8 714.4,37.0 714.6,35.4 714.9,36.9 715.1,35.3 715.4,37.2 715.6,36.3 715.9,35.1 716.1,36.7 716.4,35.0 716.6,34.6 716.9,34.5 717.1,34.7 717.4,34.6 717.6,33.4 717.9,33.0 718.1,32.6 718.4,31.8 718.6,31.0 718.9,30.3 719.1,29.4 719.4,28.6 719.7,28.6 719.9,28.6 720.2,28.8 720.4,28.7 720.7,28.8 720.9,28.7 721.2,28.8 721.4,28.9 721.7,28.5 721.9,28.7 722.2,28.6 722.4,28.4 722.7,28.6 722.9,28.5 723.2,28.7 723.4,28.6 723.7,27.1 724.0,28.5 724.2,28.0 724.5,27.6 724.7,27.3 725.0,27.2 725.2,26.6 725.5,26.5 725.7,26.4 726.0,26.5 726.2,26.5 726.5,26.4 726.7,26.3 727.0,26.4 727.2,26.2 727.5,26.1 727.7,26.0 728.0,26.0" fill="none" stroke="#4C72B0" stroke-width="2.2" stroke-linejoin="round" stroke-linecap="round"/>
<polyline points="66.2,341.2 66.5,338.0 66.7,342.3 67.0,340.2 67.2,339.5 67.5,340.5 67.7,339.7 68.0,339.1 68.2,337.5 68.4,338.1 68.7,335.6 68.9,338.4 69.2,335.0 69.4,335.5 69.7,335.5 69.9,335.2 70.2,336.1 70.4,335.1 70.7,335.3 70.9,340.5 71.2,339.6 71.5,339.7 71.7,341.2 72.0,340.2 72.2,341.5 72.5,343.6 72.8,342.4 73.0,342.7 73.3,340.5 73.5,339.5 73.8,340.1 74.0,338.7 74.3,339.7 74.6,337.7 74.8,338.8 75.1,335.9 75.3,334.5 75.6,335.0 75.8,333.8 76.1,334.2 76.3,335.7 76.6,334.4 76.8,333.3 77.1,332.6 77.3,331.1 77.6,331.9 77.8,333.4 78.1,328.9 78.3,331.1 78.6,330.9 78.8,329.8 79.1,330.0 79.3,330.2 79.6,329.8 79.8,329.3 80.1,330.6 80.3,329.8 80.6,328.3 80.8,328.4 81.1,330.3 81.4,329.9 81.6,330.5 81.9,329.8 82.1,329.5 82.4,327.5 82.7,331.1 82.9,331.1 83.2,331.6 83.5,330.9 83.7,330.7 84.0,331.6 84.2,332.0 84.5,332.8 84.8,334.7 85.0,336.1 85.2,337.6 85.5,338.3 85.8,341.1 86.0,342.1 86.3,340.1 86.5,341.1 86.8,344.0 87.0,344.1 87.3,344.8 87.6,347.9 87.8,348.6 88.1,349.6 88.3,352.3 88.6,352.3 88.8,350.6 89.1,350.1 89.3,352.4 89.6,352.1 89.8,352.8 90.0,352.4 90.3,354.5 90.5,354.4 90.8,355.0 91.0,355.7 91.2,355.0 91.5,354.8 91.8,358.0 92.0,357.5 92.2,356.8 92.5,359.5 92.8,359.9 93.0,362.0 93.2,362.2 93.5,362.7 93.8,361.3 94.0,365.8 94.2,361.6 94.5,361.2 94.8,364.9 95.0,365.1 95.2,363.3 95.5,362.5 95.8,364.9 96.0,362.5 96.2,363.5 96.5,366.6 96.8,366.1 97.0,364.6 97.2,368.0 97.5,364.8 97.8,367.6 98.0,366.5 98.2,364.3 98.5,373.6 98.8,369.8 99.0,370.9 99.2,370.0 99.5,370.0 99.8,373.9 100.0,366.5 100.3,372.6 100.6,377.3 100.8,377.8 101.1,372.2 101.3,373.7 101.5,372.4 101.8,370.2 102.0,368.6 102.3,367.3 102.5,368.1 102.8,371.3 103.0,372.0 103.3,368.9 103.6,371.2 103.8,369.7 104.1,366.5 104.3,370.3 104.6,368.9 104.8,369.9 105.1,366.4 105.3,367.6 105.6,365.7 105.8,372.6 106.1,367.1 106.3,365.9 106.5,363.7 106.8,368.5 107.0,362.8 107.3,368.0 107.5,366.6 107.8,364.6 108.0,362.7 108.2,363.8 108.5,360.6 108.7,359.4 109.0,359.4 109.2,362.4 109.5,361.3 109.7,362.5 110.0,360.4 110.2,359.8 110.5,361.8 110.7,360.4 111.0,360.9 111.2,361.7 111.5,358.8 111.7,355.1 111.9,354.4 112.2,354.5 112.4,351.1 112.7,355.4 112.9,352.8 113.2,356.2 113.4,350.5 113.6,352.7 113.9,353.2 114.1,351.7 114.4,352.8 114.6,350.1 114.8,352.1 115.1,351.0 115.3,356.9 115.6,355.2 115.8,355.6 116.1,352.6 116.3,355.5 116.6,354.3 116.8,355.2 117.1,353.9 117.3,356.2 117.6,354.5 117.8,357.2 118.1,361.0 118.3,355.4 118.5,356.5 118.8,359.5 119.0,356.8 119.3,356.7 119.5,362.3 119.8,358.7 120.0,364.8 120.3,364.6 120.5,361.7 120.8,361.8 121.0,359.7 121.2,366.3 121.5,364.0 121.8,361.8 122.0,366.2 122.2,368.1 122.5,370.0 122.8,366.3 123.0,367.5 123.2,366.6 123.5,369.3 123.8,371.6 124.0,367.1 124.3,369.4 124.5,367.4 124.8,367.8 125.0,367.5 125.3,366.3 125.6,367.6 125.8,365.0 126.1,367.0 126.3,365.1 126.6,366.4 126.8,362.8 127.1,362.4 127.3,364.6 127.6,362.8 127.8,360.0 128.1,362.7 128.3,360.7 128.5,364.7 128.8,359.0 129.0,358.9 129.3,353.8 129.5,357.2 129.8,361.4 130.0,357.7 130.2,357.2 130.5,356.6 130.8,357.6 131.0,356.9 131.2,357.0 131.5,357.9 131.8,356.8 132.0,356.8 132.2,359.4 132.5,354.9 132.8,359.1 133.0,356.3 133.2,356.1 133.5,356.6 133.8,355.0 134.0,354.6 134.2,354.5 134.5,354.0 134.8,354.4 135.0,354.2 135.2,351.8 135.5,354.7 135.8,354.8 136.0,347.8 136.2,351.4 136.5,347.3 136.8,347.8 137.0,349.1 137.2,349.6 137.5,343.6 137.8,348.9 138.0,350.8 138.2,346.3 138.5,344.4 138.8,348.6 139.0,346.5 139.2,345.3 139.5,346.2 139.8,344.6 140.0,344.8 140.3,341.7 140.5,340.8 140.8,344.2 141.1,346.1 141.3,346.4 141.6,341.9 141.8,341.2 142.1,342.3 142.3,342.6 142.6,344.9 142.8,340.7 143.1,344.0 143.3,341.0 143.6,344.4 143.8,344.1 144.1,343.1 144.3,344.5 144.5,341.1 144.8,344.8 145.0,342.6 145.3,343.2 145.5,345.5 145.8,344.3 146.0,346.2 146.2,344.5 146.5,346.6 146.7,348.7 147.0,349.0 147.2,346.7 147.5,351.9 147.7,348.9 148.0,349.9 148.2,351.4 148.5,349.2 148.7,350.8 149.0,349.0 149.2,348.3 149.4,346.9 149.7,347.6 149.9,346.8 150.2,349.4 150.4,343.5 150.7,347.9 150.9,348.2 151.2,351.3 151.4,345.6 151.7,347.1 151.9,347.8 152.2,346.1 152.4,347.1 152.7,342.6 152.9,345.1 153.2,350.1 153.4,349.4 153.7,347.7 153.9,348.0 154.2,348.9 154.4,348.4 154.7,349.4 154.9,350.9 155.2,349.5 155.4,351.9 155.7,352.6 155.9,350.0 156.2,351.0 156.4,351.4 156.7,349.7 156.9,353.2 157.2,345.6 157.4,350.6 157.7,348.7 157.9,351.2 158.2,351.2 158.5,347.3 158.7,350.1 159.0,348.5 159.2,343.6 159.5,350.1 159.7,344.7 160.0,344.4 160.2,347.4 160.5,350.2 160.8,348.4 161.0,345.5 161.2,346.9 161.5,346.2 161.8,346.7 162.0,346.8 162.2,347.9 162.5,348.9 162.8,349.6 163.0,347.5 163.2,345.2 163.5,346.4 163.8,345.5 164.0,345.4 164.2,343.6 164.5,345.3 164.8,342.5 165.0,348.4 165.2,348.1 165.5,347.9 165.8,344.4 166.0,346.2 166.2,348.1 166.5,345.1 166.8,348.9 167.0,349.5 167.3,350.2 167.5,354.0 167.8,353.4 168.0,356.7 168.3,355.6 168.5,355.8 168.8,355.2 169.0,359.8 169.3,359.3 169.5,356.6 169.8,355.0 170.0,356.9 170.3,359.3 170.5,363.5 170.8,358.2 171.0,363.8 171.2,355.8 171.5,359.4 171.7,358.4 171.9,355.0 172.2,357.1 172.4,355.7 172.7,353.3 172.9,353.0 173.1,353.6 173.4,354.7 173.6,352.8 173.9,356.8 174.1,353.0 174.4,351.7 174.6,355.5 174.9,354.6 175.1,350.1 175.4,352.5 175.6,351.9 175.9,354.6 176.1,355.3 176.4,353.9 176.6,353.9 176.8,353.2 177.1,354.2 177.3,357.3 177.6,354.8 177.8,357.2 178.0,358.6 178.3,361.3 178.5,360.4 178.7,359.9 179.0,360.1 179.2,365.1 179.5,360.1 179.7,363.2 180.0,363.0 180.2,366.0 180.5,363.4 180.7,366.3 181.0,367.1 181.2,371.1 181.5,367.9 181.7,366.5 182.0,369.9 182.2,369.1 182.5,371.1 182.7,371.1 183.0,373.0 183.2,373.7 183.5,369.5 183.7,368.5 184.0,368.9 184.3,370.5 184.5,368.6 184.8,370.6 185.0,366.3 185.3,367.0 185.5,367.3 185.8,364.9 186.0,365.7 186.3,358.9 186.5,357.4 186.8,363.3 187.1,359.2 187.3,363.3 187.6,358.4 187.8,356.8 188.1,357.0 188.3,354.9 188.6,353.6 188.9,355.8 189.1,352.7 189.4,354.4 189.6,356.5 189.9,357.6 190.1,364.3 190.4,367.3 190.7,362.5 190.9,363.5 191.2,365.0 191.4,362.9 191.7,361.0 191.9,358.3 192.2,358.4 192.4,362.0 192.7,356.6 192.9,360.1 193.2,360.6 193.5,361.1 193.7,357.7 194.0,358.7 194.2,357.1 194.5,358.6 194.7,360.0 195.0,360.3 195.2,361.3 195.5,357.5 195.8,360.4 196.0,359.3 196.3,357.7 196.5,361.8 196.8,358.4 197.0,358.1 197.3,359.4 197.5,360.9 197.8,357.4 198.0,359.9 198.3,359.3 198.5,361.2 198.8,357.7 199.0,362.0 199.2,363.3 199.5,358.8 199.7,359.8 199.9,361.2 200.2,363.0 200.4,366.1 200.7,363.8 200.9,366.1 201.2,369.1 201.4,370.8 201.7,371.4 201.9,367.3 202.2,370.5 202.4,371.2 202.6,371.4 202.9,369.9 203.1,371.4 203.4,369.2 203.6,366.0 203.9,365.4 204.1,368.0 204.4,367.9 204.6,363.7 204.9,367.0 205.1,365.0 205.4,365.4 205.6,363.0 205.9,362.2 206.1,362.6 206.4,363.8 206.6,363.7 206.9,364.1 207.1,364.2 207.4,360.9 207.6,365.2 207.9,362.7 208.1,366.9 208.4,362.4 208.6,358.6 208.9,361.7 209.2,361.1 209.4,361.8 209.7,363.6 209.9,367.5 210.2,364.3 210.4,365.9 210.7,361.4 210.9,367.9 211.2,365.3 211.4,367.8 211.7,364.5 211.9,367.0 212.2,369.1 212.4,368.1 212.7,370.0 212.9,367.5 213.2,366.0 213.4,364.7 213.7,369.9 213.9,369.1 214.2,367.4 214.4,369.4 214.7,367.1 214.9,372.1 215.2,372.2 215.4,372.4 215.7,373.4 215.9,368.3 216.2,367.8 216.4,368.4 216.7,369.0 216.9,369.0 217.2,369.9 217.5,371.4 217.7,370.4 218.0,365.5 218.2,368.7 218.5,367.5 218.7,368.9 219.0,366.8 219.3,363.7 219.5,365.3 219.8,363.7 220.0,366.5 220.3,365.1 220.5,364.7 220.8,365.0 221.0,363.0 221.3,364.2 221.5,360.4 221.8,359.9 222.1,360.5 222.3,364.4 222.6,365.4 222.8,365.3 223.1,366.6 223.3,365.8 223.6,367.2 223.8,367.4 224.1,365.1 224.3,367.5 224.6,368.0 224.8,371.9 225.1,374.6 225.3,373.9 225.5,379.8 225.8,381.0 226.0,378.8 226.3,378.9 226.5,374.8 226.8,374.9 227.0,376.3 227.3,375.8 227.5,371.9 227.8,374.5 228.0,370.6 228.3,371.6 228.5,374.4 228.8,372.1 229.0,371.7 229.3,373.9 229.5,373.2 229.8,369.4 230.0,371.1 230.3,375.6 230.5,371.8 230.8,372.8 231.0,371.4 231.3,376.9 231.5,371.7 231.8,374.1 232.0,373.2 232.3,370.5 232.5,368.4 232.8,369.7 233.0,372.7 233.3,369.0 233.5,369.2 233.8,374.4 234.1,369.8 234.3,369.9 234.6,370.5 234.8,370.9 235.1,368.5 235.3,369.7 235.6,365.5 235.8,371.2 236.1,369.2 236.3,369.1 236.6,370.3 236.8,373.6 237.0,370.0 237.3,369.2 237.5,373.2 237.8,368.7 238.0,374.1 238.3,371.1 238.5,367.4 238.8,367.9 239.0,367.8 239.3,366.5 239.5,363.6 239.8,358.9 240.0,364.7 240.3,359.7 240.6,359.8 240.8,361.8 241.1,359.0 241.3,360.0 241.6,357.3 241.8,357.1 242.1,353.4 242.3,356.5 242.6,354.9 242.9,353.2 243.1,353.0 243.4,351.8 243.6,351.7 243.9,352.5 244.1,352.5 244.4,345.9 244.6,350.1 244.9,350.1 245.1,349.2 245.4,348.9 245.6,348.9 245.9,351.3 246.1,353.4 246.4,353.1 246.6,353.4 246.9,352.7 247.1,352.4 247.4,350.1 247.6,355.6 247.8,350.2 248.1,349.9 248.3,350.3 248.6,350.3 248.8,351.6 249.1,351.8 249.3,355.0 249.6,353.0 249.8,354.7 250.1,354.6 250.3,353.2 250.6,354.3 250.8,353.0 251.1,353.0 251.3,357.3 251.6,357.3 251.8,357.7 252.1,359.8 252.3,355.6 252.6,362.4 252.8,360.9 253.1,359.8 253.3,362.8 253.6,362.2 253.8,361.9 254.1,362.7 254.3,361.0 254.6,365.0 254.8,360.2 255.1,356.4 255.3,354.2 255.5,355.0 255.8,354.0 256.0,351.2 256.2,353.2 256.5,351.1 256.8,355.0 257.0,350.1 257.2,353.9 257.5,352.3 257.8,348.4 258.0,351.5 258.2,353.0 258.5,351.4 258.8,351.9 259.0,352.2 259.2,353.3 259.5,351.2 259.8,355.7 260.0,353.3 260.3,357.3 260.5,354.0 260.8,353.9 261.0,355.0 261.3,356.9 261.5,351.8 261.8,353.7 262.0,353.6 262.3,351.1 262.5,354.9 262.8,355.2 263.1,356.2 263.3,356.4 263.6,360.4 263.8,362.6 264.1,362.5 264.3,365.4 264.6,367.4 264.8,367.7 265.1,366.0 265.3,367.9 265.6,368.7 265.8,366.0 266.1,368.4 266.3,368.4 266.6,371.6 266.8,374.3 267.1,368.4 267.3,373.3 267.6,370.3 267.8,372.3 268.1,372.2 268.3,371.7 268.5,371.5 268.8,369.7 269.0,369.9 269.3,372.4 269.5,368.7 269.8,368.3 270.0,369.2 270.3,370.6 270.5,369.8 270.8,366.7 271.0,366.0 271.3,367.3 271.5,367.3 271.8,367.7 272.0,364.5 272.3,369.3 272.5,366.4 272.8,369.2 273.0,367.9 273.3,365.1 273.5,363.8 273.8,359.3 274.0,359.1 274.3,362.7 274.5,361.5 274.8,361.3 275.0,359.2 275.3,359.9 275.5,358.6 275.8,359.2 276.0,357.5 276.3,358.6 276.5,359.4 276.8,355.3 277.0,356.6 277.3,355.8 277.5,354.8 277.7,357.1 278.0,353.2 278.2,355.0 278.5,354.6 278.7,355.5 279.0,350.3 279.2,352.2 279.5,351.4 279.7,350.3 280.0,348.6 280.2,349.8 280.5,350.6 280.7,353.3 281.0,350.1 281.2,351.8 281.4,348.3 281.7,356.0 281.9,353.6 282.1,354.4 282.4,351.3 282.6,354.5 282.9,356.8 283.1,357.9 283.3,356.1 283.6,355.4 283.8,355.6 284.1,357.3 284.3,355.8 284.6,358.1 284.8,355.0 285.1,356.8 285.3,353.0 285.6,355.4 285.8,357.0 286.1,358.2 286.3,355.7 286.6,357.0 286.8,357.0 287.0,356.1 287.3,355.5 287.5,354.6 287.8,352.3 288.0,350.3 288.3,352.2 288.5,350.8 288.8,352.6 289.0,350.0 289.3,349.1 289.5,345.7 289.8,350.1 290.0,348.5 290.3,349.3 290.5,350.1 290.8,347.4 291.0,347.4 291.3,350.9 291.5,347.7 291.8,348.5 292.0,352.3 292.3,352.1 292.5,348.7 292.8,352.0 293.0,346.5 293.3,348.2 293.5,349.1 293.8,351.1 294.0,347.2 294.3,345.2 294.5,345.1 294.8,347.3 295.0,344.3 295.3,344.3 295.5,346.2 295.8,339.9 296.0,342.8 296.3,339.3 296.5,347.2 296.8,345.0 297.0,346.1 297.3,348.8 297.5,350.8 297.8,349.3 298.1,349.0 298.3,353.2 298.6,351.0 298.8,356.2 299.1,355.6 299.3,352.5 299.6,358.4 299.8,355.2 300.1,356.3 300.3,353.2 300.6,356.2 300.8,357.7 301.1,357.5 301.3,356.2 301.6,354.7 301.8,358.2 302.1,355.1 302.3,362.0 302.6,359.7 302.8,362.4 303.1,360.2 303.3,362.8 303.6,365.3 303.8,364.3 304.1,361.4 304.3,360.7 304.5,363.5 304.8,365.8 305.0,361.5 305.3,356.7 305.5,357.8 305.8,361.1 306.0,355.8 306.3,355.7 306.5,352.8 306.8,351.1 307.0,353.2 307.3,353.3 307.5,350.9 307.8,352.3 308.0,349.8 308.3,348.9 308.5,347.9 308.8,349.5 309.0,351.0 309.3,347.4 309.5,351.0 309.8,347.4 310.0,349.4 310.3,349.7 310.6,347.8 310.8,349.4 311.1,347.6 311.3,350.9 311.6,348.6 311.8,345.3 312.1,349.4 312.3,347.4 312.6,351.2 312.9,350.0 313.1,348.6 313.4,349.6 313.6,346.2 313.9,344.9 314.1,346.1 314.4,343.7 314.6,345.3 314.9,344.2 315.2,341.0 315.4,344.0 315.7,344.6 315.9,346.1 316.2,343.8 316.4,345.8 316.7,341.5 316.9,344.6 317.2,341.0 317.4,343.2 317.7,342.3 317.9,343.3 318.2,344.8 318.4,344.8 318.7,348.3 318.9,346.2 319.2,350.8 319.4,347.6 319.7,349.0 319.9,348.4 320.2,354.1 320.4,347.0 320.7,353.0 320.9,354.7 321.2,352.3 321.4,351.2 321.7,353.3 321.9,352.4 322.2,347.5 322.4,350.0 322.7,344.4 322.9,344.5 323.2,341.9 323.4,344.9 323.7,346.5 323.9,339.6 324.2,339.9 324.5,341.2 324.7,343.2 325.0,341.0 325.2,342.5 325.5,342.3 325.8,343.1 326.0,347.0 326.3,349.5 326.5,345.4 326.8,347.6 327.0,348.2 327.3,350.4 327.5,349.5 327.8,345.4 328.0,350.0 328.3,348.0 328.5,348.6 328.8,345.4 329.0,348.3 329.3,343.5 329.5,349.8 329.8,344.3 330.0,345.7 330.3,347.9 330.5,348.7 330.8,347.6 331.0,344.1 331.2,348.1 331.5,348.0 331.7,349.0 332.0,352.9 332.2,348.8 332.5,351.8 332.7,354.5 333.0,351.8 333.2,349.3 333.5,352.9 333.7,355.7 334.0,353.9 334.2,350.0 334.5,353.4 334.7,352.4 334.9,354.1 335.2,353.6 335.4,350.6 335.6,352.1 335.9,358.7 336.1,360.2 336.4,356.3 336.6,361.9 336.8,356.1 337.1,360.3 337.3,357.1 337.6,358.7 337.8,357.3 338.1,355.3 338.3,354.0 338.6,351.9 338.8,356.2 339.1,353.8 339.3,356.0 339.6,355.1 339.8,352.9 340.1,351.6 340.3,352.8 340.6,351.9 340.8,351.7 341.1,353.8 341.3,352.0 341.6,351.2 341.8,351.1 342.1,351.4 342.4,352.5 342.6,352.5 342.9,352.1 343.1,356.9 343.4,351.3 343.6,353.9 343.9,355.1 344.2,356.6 344.4,359.4 344.7,357.5 344.9,358.9 345.2,351.5 345.4,355.5 345.7,356.8 345.9,358.8 346.2,358.3 346.4,356.5 346.7,359.5 346.9,359.0 347.2,354.5 347.4,363.4 347.7,361.2 347.9,359.0 348.2,363.0 348.4,360.8 348.7,357.8 348.9,357.8 349.2,360.6 349.4,359.1 349.7,361.2 349.9,357.1 350.2,357.0 350.4,356.5 350.6,357.9 350.9,359.8 351.1,359.5 351.4,358.0 351.6,353.9 351.9,356.7 352.1,359.0 352.4,357.8 352.6,353.6 352.9,354.3 353.1,356.9 353.4,354.2 353.6,357.5 353.9,353.8 354.1,352.7 354.4,356.2 354.6,358.9 354.9,357.7 355.1,363.0 355.4,360.0 355.6,358.8 355.9,361.6 356.1,362.3 356.4,363.2 356.6,362.9 356.9,367.6 357.2,365.3 357.4,363.3 357.7,363.1 357.9,362.2 358.2,362.8 358.4,365.6 358.7,363.8 359.0,360.7 359.2,363.5 359.5,364.1 359.7,364.7 360.0,362.9 360.3,365.0 360.5,360.3 360.8,363.7 361.0,360.3 361.3,362.2 361.5,359.8 361.8,356.1 362.0,355.9 362.3,354.9 362.5,356.1 362.8,356.0 363.0,359.8 363.3,359.1 363.5,355.5 363.8,360.8 364.0,358.4 364.3,359.3 364.5,360.7 364.8,361.6 365.0,357.8 365.3,359.4 365.5,359.6 365.8,359.1 366.0,359.1 366.3,358.4 366.5,360.5 366.8,357.6 367.0,356.7 367.3,356.2 367.5,357.0 367.8,352.9 368.0,352.8 368.3,352.4 368.6,348.9 368.8,352.8 369.1,350.5 369.3,352.7 369.6,352.9 369.8,355.0 370.1,351.9 370.3,356.2 370.6,358.0 370.8,354.6 371.1,359.5 371.3,356.9 371.6,357.9 371.8,356.4 372.1,355.9 372.3,352.9 372.6,354.3 372.8,355.3 373.1,353.5 373.3,354.6 373.6,356.0 373.8,353.2 374.0,355.4 374.3,353.2 374.5,351.5 374.8,351.6 375.0,349.1 375.2,348.4 375.5,345.8 375.7,349.9 376.0,345.8 376.2,346.1 376.5,345.0 376.7,347.0 377.0,350.3 377.2,350.4 377.5,349.2 377.7,349.7 378.0,353.3 378.2,349.1 378.5,355.6 378.8,349.7 379.0,353.9 379.3,358.1 379.5,358.5 379.8,353.4 380.0,356.0 380.3,355.3 380.6,355.8 380.8,354.9 381.1,360.6 381.3,357.1 381.6,361.6 381.8,358.1 382.1,362.2 382.3,360.2 382.6,358.8 382.8,358.6 383.1,360.5 383.3,358.2 383.6,363.3 383.8,360.4 384.1,360.1 384.3,364.0 384.6,366.8 384.8,366.3 385.1,362.5 385.3,363.7 385.6,366.6 385.8,366.2 386.1,366.7 386.3,366.5 386.6,364.0 386.8,365.9 387.1,365.3 387.3,362.0 387.6,361.5 387.8,358.1 388.1,358.7 388.4,362.3 388.6,355.2 388.9,361.6 389.1,359.6 389.4,356.0 389.6,357.4 389.9,354.6 390.1,358.1 390.4,353.3 390.6,352.4 390.9,355.1 391.1,354.7 391.4,355.3 391.6,355.6 391.9,357.1 392.1,358.8 392.4,359.1 392.6,356.7 392.9,356.7 393.1,358.2 393.4,354.8 393.6,359.1 393.9,356.8 394.1,359.2 394.4,358.6 394.6,359.0 394.9,361.4 395.1,361.4 395.4,360.6 395.6,361.4 395.9,355.8 396.1,358.2 396.4,362.8 396.6,360.0 396.9,362.2 397.2,362.0 397.4,362.5 397.7,360.5 397.9,363.3 398.2,362.3 398.4,357.5 398.7,362.6 398.9,363.2 399.2,364.3 399.4,361.5 399.7,364.2 399.9,360.4 400.2,366.4 400.4,365.7 400.7,366.5 400.9,366.5 401.2,363.3 401.4,370.1 401.7,367.8 401.9,370.7 402.2,364.3 402.4,371.4 402.7,368.2 402.9,369.8 403.2,370.1 403.4,373.0 403.7,371.8 403.9,371.0 404.2,374.6 404.4,369.2 404.7,373.0 405.0,374.4 405.2,374.9 405.5,372.9 405.7,375.1 406.0,372.9 406.2,371.4 406.5,374.3 406.7,375.0 407.0,373.8 407.3,371.7 407.5,376.9 407.8,372.8 408.0,375.3 408.3,373.4 408.5,381.8 408.8,378.7 409.0,376.2 409.3,379.4 409.5,379.7 409.8,382.1 410.1,376.5 410.3,376.0 410.6,376.2 410.8,379.7 411.1,376.9 411.3,382.0 411.6,379.2 411.8,378.3 412.1,380.2 412.3,375.5 412.6,375.0 412.9,376.4 413.1,375.1 413.4,372.9 413.6,373.4 413.9,374.1 414.1,372.6 414.4,366.6 414.6,366.3 414.9,367.9 415.1,368.1 415.4,364.3 415.7,367.7 415.9,365.9 416.2,363.9 416.4,366.1 416.7,366.8 416.9,364.8 417.2,365.0 417.5,363.9 417.7,364.9 418.0,363.5 418.2,364.0 418.5,361.9 418.7,361.9 419.0,359.3 419.2,359.6 419.5,361.8 419.7,360.4 420.0,361.7 420.2,360.4 420.5,363.5 420.7,361.8 421.0,362.1 421.2,362.7 421.5,361.7 421.7,364.8 422.0,362.5 422.2,364.7 422.5,363.8 422.7,362.5 422.9,365.7 423.2,364.0 423.4,368.3 423.6,366.2 423.9,369.1 424.1,372.2 424.4,370.5 424.6,371.2 424.8,374.6 425.1,367.7 425.3,369.8 425.6,372.3 425.8,367.7 426.1,372.7 426.3,368.0 426.6,369.5 426.8,370.9 427.1,370.7 427.3,367.8 427.6,367.1 427.8,367.8 428.1,368.2 428.3,368.3 428.6,369.4 428.8,370.0 429.1,366.8 429.3,369.2 429.6,369.5 429.8,374.9 430.1,372.2 430.4,372.6 430.6,372.0 430.9,371.4 431.1,375.8 431.4,370.7 431.6,370.5 431.9,373.0 432.1,370.8 432.4,375.5 432.6,375.4 432.9,372.5 433.2,372.9 433.4,369.7 433.7,374.4 433.9,372.1 434.2,368.3 434.4,371.1 434.7,369.8 434.9,374.9 435.2,368.2 435.5,371.4 435.7,369.1 436.0,370.2 436.2,367.7 436.5,371.7 436.7,370.5 437.0,367.9 437.2,371.5 437.5,369.3 437.7,370.4 438.0,369.0 438.2,366.1 438.5,370.5 438.7,366.1 439.0,365.4 439.2,364.5 439.5,365.2 439.7,363.8 440.0,366.7 440.2,364.4 440.5,364.5 440.7,365.5 441.0,367.8 441.2,365.6 441.5,368.8 441.7,367.8 442.0,366.6 442.2,367.1 442.5,367.9 442.7,367.9 443.0,365.5 443.2,370.1 443.5,367.5 443.8,370.2 444.0,367.5 444.3,370.0 444.5,368.7 444.8,370.2 445.0,365.1 445.3,369.2 445.5,369.2 445.8,374.3 446.1,371.5 446.3,372.1 446.6,370.7 446.8,376.4 447.1,378.8 447.3,378.7 447.6,373.8 447.8,379.1 448.1,379.1 448.3,375.3 448.6,377.2 448.8,375.4 449.0,371.1 449.3,370.3 449.5,371.6 449.8,374.3 450.0,369.3 450.3,373.6 450.5,377.3 450.8,378.6 451.0,377.3 451.3,375.2 451.5,380.2 451.8,380.9 452.0,379.6 452.3,377.8 452.6,379.8 452.8,379.8 453.1,379.2 453.3,382.2 453.6,378.7 453.8,378.9 454.1,381.2 454.4,376.8 454.6,377.5 454.9,373.5 455.1,378.2 455.4,380.0 455.6,378.4 455.9,378.0 456.1,381.1 456.4,376.1 456.6,381.1 456.9,379.9 457.1,378.2 457.4,381.5 457.6,384.5 457.9,379.2 458.1,383.3 458.4,383.5 458.6,389.8 458.9,390.6 459.1,384.2 459.4,385.5 459.6,388.5 459.8,385.9 460.1,385.4 460.3,384.9 460.6,387.6 460.8,386.6 461.1,384.8 461.3,388.5 461.6,388.4 461.8,385.9 462.1,385.0 462.3,388.4 462.6,382.8 462.8,385.7 463.0,383.5 463.3,384.0 463.5,384.3 463.8,385.2 464.0,381.5 464.3,381.8 464.5,381.3 464.8,384.1 465.0,382.6 465.3,380.0 465.5,381.2 465.8,383.1 466.0,384.9 466.3,383.6 466.5,385.1 466.8,385.1 467.0,385.0 467.3,384.2 467.5,385.9 467.8,387.7 468.0,388.7 468.3,389.6 468.5,389.5 468.8,387.9 469.0,384.5 469.3,388.1 469.5,389.3 469.8,388.2 470.0,386.9 470.3,388.8 470.5,386.3 470.8,387.2 471.0,385.8 471.3,384.7 471.5,388.2 471.8,388.0 472.0,387.3 472.3,387.4 472.5,383.4 472.8,389.1 473.0,386.9 473.3,386.1 473.5,381.9 473.8,381.6 474.0,381.2 474.3,384.1 474.5,384.4 474.8,384.4 475.0,383.7 475.3,385.0 475.5,385.0 475.8,384.7 476.0,380.8 476.3,381.2 476.5,381.1 476.8,382.2 477.0,385.2 477.3,385.1 477.5,383.4 477.8,382.8 478.0,387.5 478.3,385.3 478.5,383.2 478.8,381.5 479.0,385.3 479.3,385.4 479.5,380.8 479.8,382.1 480.0,384.4 480.3,382.3 480.5,376.7 480.8,381.7 481.1,381.0 481.3,380.2 481.6,379.5 481.8,381.4 482.1,380.1 482.3,383.6 482.6,380.4 482.8,381.1 483.1,380.5 483.3,378.9 483.6,380.9 483.8,381.2 484.1,379.2 484.3,381.4 484.6,380.2 484.8,380.1 485.1,381.2 485.3,380.3 485.6,388.1 485.8,385.6 486.1,384.0 486.3,381.5 486.6,386.3 486.8,387.1 487.1,380.5 487.3,385.4 487.6,385.1 487.8,384.6 488.1,383.8 488.3,389.4 488.6,389.0 488.9,386.3 489.1,385.3 489.4,386.7 489.6,385.0 489.9,384.5 490.1,386.4 490.4,391.7 490.7,392.9 490.9,390.3 491.2,389.9 491.4,391.5 491.7,392.2 492.0,391.1 492.2,388.5 492.5,389.6 492.7,387.2 493.0,384.9 493.2,387.3 493.5,386.5 493.8,387.1 494.0,385.1 494.3,384.3 494.5,384.0 494.8,386.2 495.0,385.4 495.3,387.0 495.5,395.2 495.7,404.6 496.0,406.6 496.2,414.5 496.5,404.8 496.7,403.9 497.0,396.3 497.3,402.1 497.5,404.5 497.8,406.2 498.1,397.9 498.3,402.5 498.6,395.9 498.8,394.0 499.1,393.9 499.3,389.8 499.5,393.9 499.8,390.3 500.0,392.3 500.2,387.6 500.5,389.6 500.8,384.4 501.0,388.0 501.2,386.2 501.5,385.5 501.8,384.3 502.0,383.1 502.2,385.2 502.5,383.0 502.7,386.8 502.9,383.1 503.2,382.4 503.4,382.5 503.7,378.7 503.9,380.3 504.2,380.3 504.4,378.2 504.7,382.7 504.9,378.3 505.2,379.5 505.4,379.3 505.7,377.5 506.0,374.8 506.2,378.5 506.5,381.0 506.7,376.7 507.0,374.3 507.2,377.1 507.5,377.0 507.7,375.9 508.0,378.5 508.3,376.8 508.5,375.3 508.8,379.4 509.0,369.9 509.3,370.9 509.5,373.3 509.8,368.9 510.0,372.3 510.3,375.3 510.5,367.7 510.8,372.5 511.0,372.4 511.3,371.1 511.5,373.4 511.8,374.9 512.0,371.7 512.3,372.6 512.5,374.6 512.8,369.3 513.0,371.0 513.3,372.3 513.5,375.9 513.8,372.0 514.0,375.0 514.3,371.8 514.5,368.9 514.8,367.2 515.0,370.8 515.3,370.6 515.5,370.0 515.8,367.0 516.1,365.8 516.3,365.7 516.6,369.3 516.8,366.6 517.1,365.3 517.3,364.7 517.6,360.4 517.8,363.3 518.1,357.8 518.4,363.6 518.6,364.3 518.9,366.7 519.1,364.5 519.4,364.5 519.6,367.6 519.9,364.0 520.1,367.6 520.4,366.9 520.6,364.0 520.9,370.9 521.1,368.8 521.4,368.3 521.6,369.6 521.9,367.5 522.1,365.3 522.4,365.9 522.6,368.2 522.9,364.3 523.1,364.2 523.4,363.9 523.6,361.3 523.9,365.9 524.1,364.5 524.4,361.9 524.6,364.0 524.8,363.6 525.1,364.9 525.3,367.4 525.6,366.2 525.8,364.5 526.1,367.7 526.3,366.5 526.6,364.5 526.8,366.0 527.1,366.1 527.3,365.1 527.6,365.8 527.8,366.0 528.1,369.3 528.3,369.6 528.5,366.8 528.8,369.6 529.0,366.0 529.3,372.8 529.5,373.5 529.8,373.1 530.0,371.3 530.3,369.7 530.5,369.6 530.8,375.8 531.0,374.3 531.3,373.1 531.5,376.5 531.8,375.9 532.0,377.4 532.3,377.4 532.5,372.9 532.8,373.8 533.0,372.6 533.3,375.0 533.5,373.7 533.8,374.5 534.1,372.0 534.3,370.2 534.6,371.5 534.8,373.3 535.1,370.8 535.3,371.7 535.6,370.1 535.8,366.8 536.1,370.0 536.3,363.7 536.6,366.8 536.8,368.5 537.1,366.7 537.3,364.8 537.6,364.9 537.8,366.1 538.1,369.6 538.3,364.6 538.6,367.9 538.8,364.6 539.1,363.6 539.3,365.1 539.6,367.9 539.8,363.2 540.1,362.6 540.3,365.8 540.5,361.9 540.8,364.1 541.0,366.4 541.3,364.1 541.5,361.1 541.8,363.9 542.0,360.8 542.3,361.1 542.5,360.0 542.8,362.0 543.0,363.1 543.3,359.7 543.5,361.7 543.8,357.2 544.0,352.9 544.3,358.2 544.5,356.9 544.8,358.3 545.0,357.5 545.3,353.0 545.5,355.1 545.8,356.3 546.0,356.6 546.3,355.4 546.6,352.9 546.8,356.8 547.1,356.8 547.3,355.6 547.6,356.5 547.8,357.5 548.1,357.1 548.3,356.5 548.6,358.5 548.8,361.0 549.1,356.9 549.3,358.1 549.6,357.5 549.8,355.8 550.1,353.3 550.3,353.5 550.6,355.4 550.8,356.1 551.1,353.4 551.3,352.9 551.6,352.0 551.8,352.0 552.1,353.0 552.3,355.1 552.5,355.2 552.8,351.8 553.0,355.1 553.3,359.9 553.5,356.4 553.8,355.3 554.0,355.5 554.3,356.7 554.5,361.4 554.8,359.6 555.0,363.0 555.3,360.2 555.5,361.9 555.8,359.4 556.0,366.8 556.2,361.5 556.5,364.3 556.7,364.7 557.0,362.9 557.2,365.0 557.5,361.5 557.7,366.2 558.0,363.6 558.2,366.3 558.5,365.8 558.7,363.6 559.0,365.5 559.2,367.9 559.5,369.2 559.7,362.7 560.0,364.3 560.2,364.0 560.5,363.4 560.8,363.4 561.0,364.8 561.3,360.4 561.5,361.2 561.8,358.4 562.1,361.8 562.3,365.8 562.6,361.9 562.8,364.3 563.1,369.1 563.3,362.4 563.6,364.6 563.8,368.8 564.1,369.5 564.3,367.9 564.6,371.2 564.8,369.9 565.1,370.4 565.3,369.1 565.6,370.8 565.8,369.9 566.1,371.6 566.3,366.4 566.6,372.6 566.8,372.5 567.1,372.7 567.3,371.1 567.6,372.4 567.8,374.7 568.1,372.5 568.3,370.4 568.5,374.4 568.8,374.1 569.0,373.3 569.3,372.4 569.5,374.4 569.8,372.3 570.0,373.0 570.3,370.8 570.5,372.6 570.8,372.4 571.0,373.6 571.3,372.0 571.5,373.0 571.8,375.2 572.0,373.2 572.2,374.4 572.5,373.0 572.7,376.1 573.0,375.2 573.2,374.5 573.5,374.3 573.7,373.1 574.0,375.3 574.2,373.7 574.5,379.2 574.7,377.0 575.0,378.1 575.2,375.6 575.5,376.3 575.7,372.4 576.0,376.4 576.2,375.2 576.5,374.3 576.7,374.6 577.0,376.5 577.2,377.2 577.5,377.5 577.7,377.9 578.0,379.3 578.2,378.5 578.5,377.2 578.7,378.9 579.0,379.1 579.2,380.5 579.5,378.8 579.7,378.6 580.0,379.9 580.2,380.8 580.5,379.3 580.7,381.0 581.0,379.5 581.2,382.0 581.5,380.9 581.7,377.9 582.0,377.2 582.2,374.4 582.5,372.9 582.7,374.7 583.0,377.4 583.2,378.3 583.5,373.8 583.7,375.2 584.0,372.3 584.2,376.3 584.5,375.2 584.8,377.5 585.0,371.8 585.2,376.2 585.5,376.1 585.8,378.9 586.0,376.2 586.2,377.2 586.5,377.0 586.8,379.9 587.0,377.7 587.2,374.5 587.5,376.5 587.8,377.0 588.0,379.7 588.2,378.5 588.5,380.2 588.8,380.0 589.0,377.4 589.2,378.7 589.5,377.6 589.8,380.0 590.0,378.2 590.3,378.5 590.5,377.6 590.8,378.9 591.0,375.4 591.3,374.7 591.5,376.0 591.8,380.2 592.0,380.0 592.3,373.8 592.6,373.1 592.8,377.4 593.1,375.7 593.3,376.7 593.6,378.7 593.8,372.2 594.1,377.8 594.3,375.7 594.6,375.6 594.8,378.1 595.1,378.4 595.4,380.8 595.6,380.2 595.9,379.4 596.1,379.7 596.4,383.0 596.6,378.9 596.9,381.9 597.2,384.5 597.4,382.5 597.7,381.7 597.9,383.3 598.2,383.1 598.4,386.1 598.7,384.1 598.9,379.3 599.2,386.3 599.4,381.0 599.7,382.4 599.9,383.7 600.2,381.9 600.4,385.1 600.7,382.2 600.9,379.3 601.2,380.1 601.4,378.5 601.7,380.5 601.9,378.0 602.2,376.6 602.4,378.5 602.7,376.0 602.9,379.5 603.2,379.7 603.4,377.8 603.7,379.6 603.9,376.7 604.2,380.5 604.4,382.1 604.7,381.2 605.0,383.6 605.2,383.5 605.5,383.0 605.7,383.5 606.0,384.4 606.2,385.3 606.5,385.4 606.7,384.7 607.0,389.0 607.2,381.9 607.5,384.2 607.7,383.4 608.0,385.4 608.2,384.2 608.5,383.1 608.7,386.7 609.0,388.5 609.2,385.7 609.5,380.9 609.7,382.0 610.0,383.1 610.2,384.9 610.5,382.1 610.7,378.8 611.0,379.0 611.2,375.4 611.5,373.6 611.7,380.1 612.0,379.0 612.2,374.3 612.5,377.4 612.7,374.8 613.0,372.2 613.2,371.2 613.5,370.2 613.7,373.3 614.0,369.7 614.2,374.1 614.5,372.0 614.7,374.4 614.9,372.2 615.2,376.1 615.4,374.7 615.7,375.7 615.9,369.9 616.2,371.9 616.4,373.7 616.7,372.2 616.9,370.7 617.2,371.5 617.4,371.9 617.7,368.4 617.9,369.5 618.2,369.1 618.4,368.9 618.7,370.7 619.0,372.6 619.2,367.0 619.5,369.4 619.7,371.2 620.0,374.0 620.2,374.8 620.5,370.4 620.8,374.8 621.0,374.0 621.3,376.7 621.5,377.7 621.8,376.0 622.1,379.3 622.3,378.3 622.6,381.8 622.8,378.6 623.1,375.8 623.3,380.8 623.6,379.4 623.8,383.3 624.1,383.0 624.3,386.0 624.6,386.3 624.8,386.8 625.1,389.9 625.3,386.4 625.6,384.7 625.8,386.9 626.1,380.7 626.3,387.2 626.6,383.1 626.8,386.6 627.1,384.2 627.3,382.6 627.6,381.1 627.8,381.4 628.1,381.8 628.3,382.4 628.5,382.6 628.8,381.1 629.0,383.7 629.3,387.2 629.5,384.3 629.8,383.1 630.0,384.0 630.3,382.7 630.5,387.1 630.8,388.4 631.0,385.5 631.3,383.6 631.5,387.0 631.8,386.6 632.0,384.6 632.3,386.2 632.5,389.0 632.8,391.7 633.0,393.5 633.3,390.9 633.5,390.7 633.8,395.6 634.0,389.1 634.3,387.1 634.5,389.3 634.8,389.5 635.0,390.8 635.3,389.2 635.5,389.3 635.8,390.3 636.0,385.9 636.3,386.0 636.5,384.7 636.8,386.5 637.0,387.6 637.3,386.8 637.5,384.4 637.8,388.4 638.0,384.3 638.3,385.1 638.5,384.1 638.8,382.1 639.0,383.2 639.3,382.0 639.6,380.0 639.8,381.7 640.1,385.4 640.3,387.3 640.6,385.7 640.8,385.5 641.1,386.6 641.3,388.0 641.6,382.1 641.8,385.4 642.1,385.6 642.4,385.8 642.6,388.7 642.9,386.7 643.1,389.4 643.4,382.6 643.6,384.1 643.9,388.0 644.1,387.5 644.4,386.7 644.6,385.2 644.9,385.3 645.1,390.9 645.4,389.8 645.6,387.4 645.9,386.7 646.1,387.8 646.4,390.6 646.6,393.9 646.9,386.2 647.1,383.9 647.4,391.9 647.6,389.5 647.9,390.7 648.1,391.4 648.4,393.6 648.6,393.5 648.9,394.3 649.1,394.5 649.4,392.1 649.6,393.5 649.9,399.3 650.1,394.8 650.4,397.3 650.7,394.9 650.9,398.7 651.2,395.6 651.4,395.4 651.7,395.9 651.9,394.9 652.2,392.8 652.4,395.9 652.7,390.6 652.9,393.5 653.2,395.9 653.5,389.1 653.7,390.1 654.0,391.0 654.2,386.0 654.5,385.5 654.7,387.2 655.0,385.0 655.3,379.2 655.5,383.8 655.8,383.7 656.0,380.7 656.3,379.9 656.5,383.6 656.8,379.1 657.0,381.5 657.3,381.3 657.5,375.3 657.8,377.5 658.0,378.0 658.3,376.3 658.5,378.3 658.8,375.3 659.0,377.4 659.3,377.2 659.5,379.1 659.8,373.8 660.0,375.8 660.3,377.6 660.5,375.1 660.8,374.7 661.0,378.5 661.3,374.6 661.5,377.1 661.8,373.5 662.0,377.5 662.3,375.1 662.5,374.8 662.8,380.0 663.0,374.8 663.3,373.4 663.5,372.6 663.8,379.4 664.0,374.9 664.3,373.5 664.5,374.6 664.8,371.2 665.0,374.3 665.3,371.0 665.5,371.6 665.8,373.2 666.0,365.2 666.3,370.0 666.5,372.6 666.8,372.5 667.0,369.3 667.3,363.6 667.5,364.1 667.8,365.3 668.0,371.1 668.3,369.4 668.5,366.4 668.8,369.3 669.1,371.6 669.3,372.7 669.6,371.7 669.8,375.4 670.1,375.7 670.4,375.1 670.6,377.0 670.9,376.0 671.1,375.2 671.4,378.4 671.6,376.5 671.9,379.5 672.1,377.1 672.4,380.2 672.6,378.3 672.9,379.6 673.2,379.6 673.4,384.6 673.7,381.0 673.9,376.1 674.2,379.3 674.4,378.7 674.7,381.2 674.9,377.7 675.2,375.5 675.4,380.5 675.7,380.6 675.9,378.7 676.2,378.7 676.4,379.0 676.7,379.5 676.9,379.0 677.2,379.5 677.4,378.7 677.7,378.7 677.9,382.1 678.2,381.5 678.4,380.8 678.7,384.0 678.9,383.7 679.2,386.0 679.4,386.4 679.6,382.6 679.9,387.0 680.1,385.1 680.4,386.2 680.6,386.3 680.9,389.2 681.1,384.7 681.4,384.3 681.6,385.0 681.9,385.3 682.1,387.2 682.4,385.1 682.6,381.1 682.9,379.5 683.1,380.7 683.4,385.2 683.6,383.6 683.9,387.2 684.1,384.1 684.4,383.8 684.6,385.8 684.9,388.9 685.1,383.5 685.4,383.2 685.7,389.9 685.9,390.5 686.2,387.7 686.4,389.2 686.7,390.6 686.9,389.6 687.2,389.7 687.4,388.7 687.7,389.7 687.9,389.3 688.2,388.3 688.4,388.9 688.7,390.0 688.9,387.3 689.2,387.6 689.4,388.3 689.7,385.7 689.9,384.1 690.2,383.6 690.4,381.8 690.6,384.0 690.9,384.1 691.1,387.1 691.3,386.3 691.6,388.2 691.8,387.1 692.1,390.2 692.3,393.0 692.6,391.7 692.8,389.5 693.1,388.2 693.3,387.0 693.6,385.6 693.8,385.9 694.1,385.8 694.4,387.6 694.6,384.7 694.9,386.9 695.1,384.5 695.4,381.4 695.6,387.6 695.9,387.7 696.1,386.5 696.4,391.6 696.6,390.5 696.9,387.1 697.2,391.3 697.4,390.9 697.7,390.2 697.9,391.2 698.2,391.4 698.4,393.2 698.7,397.5 698.9,393.8 699.2,394.8 699.4,395.3 699.7,399.5 699.9,392.4 700.2,394.9 700.4,392.6 700.7,398.5 700.9,393.6 701.2,395.5 701.4,392.3 701.7,390.9 701.9,390.6 702.2,391.5 702.4,393.4 702.7,392.4 702.9,392.2 703.2,395.6 703.4,395.2 703.7,395.3 703.9,393.1 704.2,394.7 704.4,396.3 704.7,393.0 705.0,395.8 705.2,395.5 705.5,400.1 705.7,398.7 706.0,396.4 706.2,398.9 706.5,395.1 706.7,394.9 707.0,398.1 707.2,401.7 707.5,395.0 707.7,393.8 708.0,397.4 708.2,392.9 708.5,396.8 708.7,394.6 709.0,397.1 709.2,396.3 709.5,394.9 709.7,396.3 710.0,397.6 710.2,397.8 710.5,396.6 710.7,397.4 711.0,395.0 711.2,392.4 711.5,392.7 711.7,393.9 712.0,392.0 712.2,394.1 712.5,389.0 712.7,393.1 713.0,392.2 713.2,389.4 713.5,387.1 713.8,392.5 714.0,389.2 714.3,388.5 714.5,383.4 714.8,387.4 715.0,392.0 715.3,388.5 715.5,385.5 715.8,385.5 716.0,384.1 716.3,386.1 716.5,386.8 716.8,383.4 717.0,382.4 717.3,382.4 717.5,381.8 717.8,385.2 718.0,385.1 718.3,385.7 718.5,385.3 718.8,387.1 719.0,384.6 719.3,386.1 719.5,383.3 719.8,384.3 720.0,384.3 720.3,383.5 720.5,386.2 720.8,384.9 721.0,383.7 721.3,382.5 721.5,384.0 721.8,381.0 722.1,384.4 722.3,384.9 722.6,385.2 722.8,384.4 723.1,384.9 723.3,384.6 723.6,388.9 723.8,387.9 724.1,384.5 724.3,385.5 724.6,388.3 724.9,384.3 725.1,389.0 725.4,388.8 725.6,387.8 725.9,389.1 726.1,389.1 726.4,388.3 726.6,389.2 726.9,384.9 727.1,389.7 727.4,388.6 727.6,389.4 727.9,390.0" fill="none" stroke="#55A868" stroke-width="2.2" stroke-linejoin="round" stroke-linecap="round"/>
<line x1="42.1" x2="65.6" y1="21" y2="21" stroke="#4C72B0" stroke-width="2.4"/>
<line x1="42.1" x2="65.6" y1="35.7" y2="35.7" stroke="#55A868" stroke-width="2.4"/>
<text x="74.3" y="25.4" font-size="10.4" fill="#1c1c1c" stroke="#1c1c1c" stroke-width="0.1">cstrategy</text>
<text x="74.3" y="40.4" font-size="10.4" fill="#1c1c1c" stroke="#1c1c1c" stroke-width="0.1">creturns</text>
<text x="26" y="76.0" font-size="13" text-anchor="end" fill="#1c1c1c" stroke="#1c1c1c" stroke-width="0.25">1.8</text><g transform="translate(7.93,76.0)"><rect x="-0.38" y="-1.65" width="3.55" height="2.92" fill="#fff"/><rect x="4.51" y="-1.65" width="2.79" height="2.92" fill="#fff"/></g>
<text x="26" y="143.7" font-size="13" text-anchor="end" fill="#1c1c1c" stroke="#1c1c1c" stroke-width="0.25">1.6</text><g transform="translate(7.93,143.7)"><rect x="-0.38" y="-1.65" width="3.55" height="2.92" fill="#fff"/><rect x="4.51" y="-1.65" width="2.79" height="2.92" fill="#fff"/></g>
<text x="26" y="211.5" font-size="13" text-anchor="end" fill="#1c1c1c" stroke="#1c1c1c" stroke-width="0.25">1.4</text><g transform="translate(7.93,211.5)"><rect x="-0.38" y="-1.65" width="3.55" height="2.92" fill="#fff"/><rect x="4.51" y="-1.65" width="2.79" height="2.92" fill="#fff"/></g>
<text x="26" y="279.2" font-size="13" text-anchor="end" fill="#1c1c1c" stroke="#1c1c1c" stroke-width="0.25">1.2</text><g transform="translate(7.93,279.2)"><rect x="-0.38" y="-1.65" width="3.55" height="2.92" fill="#fff"/><rect x="4.51" y="-1.65" width="2.79" height="2.92" fill="#fff"/></g>
<text x="26" y="347.0" font-size="13" text-anchor="end" fill="#1c1c1c" stroke="#1c1c1c" stroke-width="0.25">1.0</text><g transform="translate(7.93,347.0)"><rect x="-0.38" y="-1.65" width="3.55" height="2.92" fill="#fff"/><rect x="4.51" y="-1.65" width="2.79" height="2.92" fill="#fff"/></g>
<text x="26" y="414.7" font-size="13" text-anchor="end" fill="#1c1c1c" stroke="#1c1c1c" stroke-width="0.25">0.8</text>
<g transform="translate(124.30,449.66) rotate(-30)"><text font-size="13" text-anchor="end" fill="#1c1c1c" stroke="#1c1c1c" stroke-width="0.25">2014</text><rect x="-14.84" y="-1.65" width="3.55" height="2.92" fill="#fff"/><rect x="-9.94" y="-1.65" width="2.79" height="2.92" fill="#fff"/></g>
<g transform="translate(242.90,449.66) rotate(-30)"><text font-size="13" text-anchor="end" fill="#1c1c1c" stroke="#1c1c1c" stroke-width="0.25">2016</text><rect x="-14.84" y="-1.65" width="3.55" height="2.92" fill="#fff"/><rect x="-9.94" y="-1.65" width="2.79" height="2.92" fill="#fff"/></g>
<g transform="translate(362.80,449.66) rotate(-30)"><text font-size="13" text-anchor="end" fill="#1c1c1c" stroke="#1c1c1c" stroke-width="0.25">2018</text><rect x="-14.84" y="-1.65" width="3.55" height="2.92" fill="#fff"/><rect x="-9.94" y="-1.65" width="2.79" height="2.92" fill="#fff"/></g>
<g transform="translate(481.70,449.66) rotate(-30)"><text font-size="13" text-anchor="end" fill="#1c1c1c" stroke="#1c1c1c" stroke-width="0.25">2020</text></g>
<g transform="translate(601.40,449.66) rotate(-30)"><text font-size="13" text-anchor="end" fill="#1c1c1c" stroke="#1c1c1c" stroke-width="0.25">2022</text></g>
<g transform="translate(720.90,449.66) rotate(-30)"><text font-size="13" text-anchor="end" fill="#1c1c1c" stroke="#1c1c1c" stroke-width="0.25">2024</text></g>
<text x="397.2" y="478.6" font-size="12" text-anchor="middle" fill="#1c1c1c" stroke="#1c1c1c" stroke-width="0.25">time</text>
</g>
</svg>
</body></html>
